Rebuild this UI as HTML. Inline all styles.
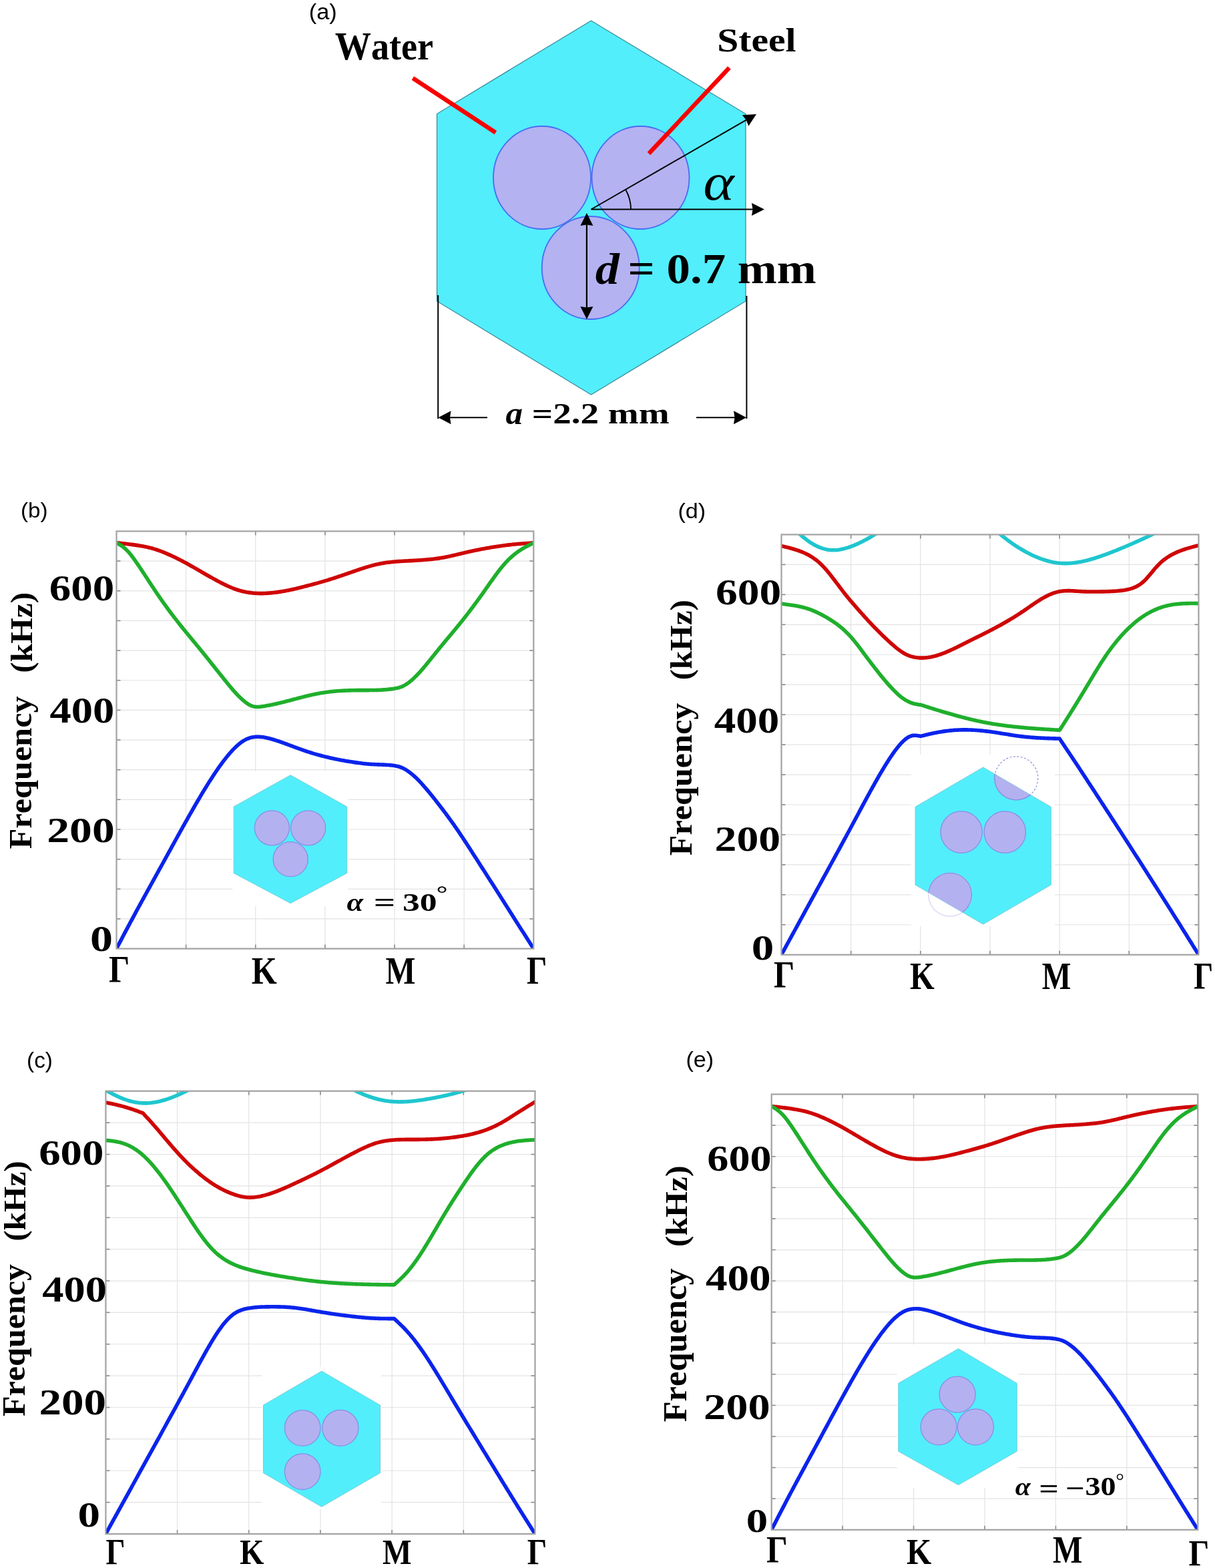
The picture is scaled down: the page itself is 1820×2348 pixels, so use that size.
<!DOCTYPE html>
<html><head><meta charset="utf-8"><title>Figure</title>
<style>html,body{margin:0;padding:0;background:#fff;}svg{display:block;}text{font-kerning:none;}</style>
</head><body>
<svg width="1820" height="2348" viewBox="0 0 1820 2348">
<rect width="1820" height="2348" fill="#fff"/>
<polygon points="885.5,31 1117,170.5 1117,451 885.5,591 654.5,451 654.5,170.5" fill="#52EEFC" stroke="#3b8f9c" stroke-width="1.3"/>
<ellipse cx="812" cy="266" rx="73" ry="77" fill="#B4B2F1" stroke="#4B6CF2" stroke-width="1.8"/>
<ellipse cx="959.5" cy="266" rx="73" ry="77" fill="#B4B2F1" stroke="#4B6CF2" stroke-width="1.8"/>
<ellipse cx="884.7" cy="401" rx="73" ry="77" fill="#B4B2F1" stroke="#4B6CF2" stroke-width="1.8"/>
<line x1="618.4" y1="117" x2="742.4" y2="198.5" stroke="#F80000" stroke-width="6.3"/>
<line x1="1092.4" y1="101.5" x2="971.9" y2="230" stroke="#F80000" stroke-width="6.3"/>
<line x1="885.5" y1="313.5" x2="1128" y2="313.5" stroke="#000" stroke-width="2.2"/>
<polygon points="1145,313.5 1126,323 1127.52,313.5 1126,304" fill="#000"/>
<line x1="885.5" y1="313.5" x2="1119.12" y2="178.95" stroke="#000" stroke-width="2"/>
<polygon points="1133,171 1121.23,188.69 1117.83,179.69 1111.79,172.2" fill="#000"/>
<path d="M945,313.5 A59.5,59.5 0 0 0 937.13,283.93" fill="none" stroke="#000" stroke-width="1.8"/>
<line x1="878.9" y1="335" x2="878.9" y2="462" stroke="#000" stroke-width="2.2"/>
<polygon points="878.9,319 888.4,338 878.9,336.48 869.4,338" fill="#000"/>
<polygon points="878.9,478 869.4,459 878.9,460.52 888.4,459" fill="#000"/>
<line x1="656.2" y1="442" x2="656.2" y2="627" stroke="#000" stroke-width="2"/>
<line x1="1118.4" y1="443" x2="1118.4" y2="627" stroke="#000" stroke-width="2"/>
<line x1="670" y1="625.3" x2="730" y2="625.3" stroke="#000" stroke-width="2"/>
<line x1="1043" y1="625.3" x2="1104" y2="625.3" stroke="#000" stroke-width="2"/>
<polygon points="656.5,625.3 675.5,615.3 673.98,625.3 675.5,635.3" fill="#000"/>
<polygon points="1118,625.3 1099,635.3 1100.52,625.3 1099,615.3" fill="#000"/>
<text transform="translate(462.67,28.58) scale(1.0446,1)" style="font-family:'Liberation Sans', sans-serif;font-weight:normal;font-style:normal;font-size:32.95px" fill="#000">(a)</text>
<text transform="translate(501.83,88.92) scale(0.9302,1)" style="font-family:'Liberation Serif', serif;font-weight:bold;font-style:normal;font-size:58.22px" fill="#000">Water</text>
<text transform="translate(1074.23,77.1) scale(1.1165,1)" style="font-family:'Liberation Serif', serif;font-weight:bold;font-style:normal;font-size:51.59px" fill="#000">Steel</text>
<text transform="translate(1053.38,299.19) scale(1.1153,1)" style="font-family:'Liberation Serif', serif;font-weight:normal;font-style:italic;font-size:78.85px" fill="#000">α</text>
<text transform="translate(891.65,424.76) scale(1.1081,1)" style="font-family:'Liberation Serif', serif;font-weight:bold;font-style:italic;font-size:65.09px" fill="#000">d</text>
<text transform="translate(940.47,424.31) scale(1.1320,1)" style="font-family:'Liberation Serif', serif;font-weight:bold;font-style:normal;font-size:62.57px" fill="#000">= 0.7 mm</text>
<text transform="translate(757.5,635.01) scale(1.0673,1)" style="font-family:'Liberation Serif', serif;font-weight:bold;font-style:italic;font-size:47.82px" fill="#000">a</text>
<text transform="translate(796.75,634.36) scale(1.2266,1)" style="font-family:'Liberation Serif', serif;font-weight:bold;font-style:normal;font-size:44.95px" fill="#000">=2.2 mm</text>
<g stroke="#E3E3E3" stroke-width="1.2">
<line x1="278.63" y1="795.5" x2="278.63" y2="1420.6"/>
<line x1="382.77" y1="795.5" x2="382.77" y2="1420.6"/>
<line x1="486.9" y1="795.5" x2="486.9" y2="1420.6"/>
<line x1="591.03" y1="795.5" x2="591.03" y2="1420.6"/>
<line x1="695.17" y1="795.5" x2="695.17" y2="1420.6"/>
<line x1="174.5" y1="1375.95" x2="799.3" y2="1375.95"/>
<line x1="174.5" y1="1331.3" x2="799.3" y2="1331.3"/>
<line x1="174.5" y1="1286.65" x2="799.3" y2="1286.65"/>
<line x1="174.5" y1="1242" x2="799.3" y2="1242"/>
<line x1="174.5" y1="1197.35" x2="799.3" y2="1197.35"/>
<line x1="174.5" y1="1152.7" x2="799.3" y2="1152.7"/>
<line x1="174.5" y1="1108.05" x2="799.3" y2="1108.05"/>
<line x1="174.5" y1="1063.4" x2="799.3" y2="1063.4"/>
<line x1="174.5" y1="1018.75" x2="799.3" y2="1018.75"/>
<line x1="174.5" y1="974.1" x2="799.3" y2="974.1"/>
<line x1="174.5" y1="929.45" x2="799.3" y2="929.45"/>
<line x1="174.5" y1="884.8" x2="799.3" y2="884.8"/>
<line x1="174.5" y1="840.15" x2="799.3" y2="840.15"/>
</g>
<g stroke="#8a8a8a" stroke-width="1.6">
<line x1="278.63" y1="1420.6" x2="278.63" y2="1414.6"/>
<line x1="278.63" y1="795.5" x2="278.63" y2="801.5"/>
<line x1="382.77" y1="1420.6" x2="382.77" y2="1414.6"/>
<line x1="382.77" y1="795.5" x2="382.77" y2="801.5"/>
<line x1="486.9" y1="1420.6" x2="486.9" y2="1414.6"/>
<line x1="486.9" y1="795.5" x2="486.9" y2="801.5"/>
<line x1="591.03" y1="1420.6" x2="591.03" y2="1414.6"/>
<line x1="591.03" y1="795.5" x2="591.03" y2="801.5"/>
<line x1="695.17" y1="1420.6" x2="695.17" y2="1414.6"/>
<line x1="695.17" y1="795.5" x2="695.17" y2="801.5"/>
<line x1="174.5" y1="1375.95" x2="180.5" y2="1375.95"/>
<line x1="799.3" y1="1375.95" x2="793.3" y2="1375.95"/>
<line x1="174.5" y1="1331.3" x2="180.5" y2="1331.3"/>
<line x1="799.3" y1="1331.3" x2="793.3" y2="1331.3"/>
<line x1="174.5" y1="1286.65" x2="180.5" y2="1286.65"/>
<line x1="799.3" y1="1286.65" x2="793.3" y2="1286.65"/>
<line x1="174.5" y1="1242" x2="180.5" y2="1242"/>
<line x1="799.3" y1="1242" x2="793.3" y2="1242"/>
<line x1="174.5" y1="1197.35" x2="180.5" y2="1197.35"/>
<line x1="799.3" y1="1197.35" x2="793.3" y2="1197.35"/>
<line x1="174.5" y1="1152.7" x2="180.5" y2="1152.7"/>
<line x1="799.3" y1="1152.7" x2="793.3" y2="1152.7"/>
<line x1="174.5" y1="1108.05" x2="180.5" y2="1108.05"/>
<line x1="799.3" y1="1108.05" x2="793.3" y2="1108.05"/>
<line x1="174.5" y1="1063.4" x2="180.5" y2="1063.4"/>
<line x1="799.3" y1="1063.4" x2="793.3" y2="1063.4"/>
<line x1="174.5" y1="1018.75" x2="180.5" y2="1018.75"/>
<line x1="799.3" y1="1018.75" x2="793.3" y2="1018.75"/>
<line x1="174.5" y1="974.1" x2="180.5" y2="974.1"/>
<line x1="799.3" y1="974.1" x2="793.3" y2="974.1"/>
<line x1="174.5" y1="929.45" x2="180.5" y2="929.45"/>
<line x1="799.3" y1="929.45" x2="793.3" y2="929.45"/>
<line x1="174.5" y1="884.8" x2="180.5" y2="884.8"/>
<line x1="799.3" y1="884.8" x2="793.3" y2="884.8"/>
<line x1="174.5" y1="840.15" x2="180.5" y2="840.15"/>
<line x1="799.3" y1="840.15" x2="793.3" y2="840.15"/>
</g>
<rect x="348.2" y="1154.7" width="173.4" height="201.9" fill="#fff"/>
<clipPath id="hb"><polygon points="435.2,1160.7 519.6,1208 519.6,1307.5 435.2,1352.6 350.2,1307.5 350.2,1208"/></clipPath>
<polygon points="435.2,1160.7 519.6,1208 519.6,1307.5 435.2,1352.6 350.2,1307.5 350.2,1208" fill="#52EEFC" stroke="#6fcfd8" stroke-width="1"/>
<circle cx="407.4" cy="1239.8" r="26" fill="#B4B1F0" stroke="#8C8CE6" stroke-width="1.3"/>
<circle cx="461.6" cy="1239.8" r="26" fill="#B4B1F0" stroke="#8C8CE6" stroke-width="1.3"/>
<circle cx="435.2" cy="1286.7" r="26" fill="#B4B1F0" stroke="#8C8CE6" stroke-width="1.3"/>
<clipPath id="cb"><rect x="174.5" y="795.5" width="624.8" height="625.1"/></clipPath>
<g fill="none" stroke-width="5.6" stroke-linejoin="round" stroke-linecap="round" clip-path="url(#cb)">
<path d="M174.5,812.73 L176.24,812.93 L177.98,813.12 L179.72,813.32 L181.46,813.51 L183.2,813.71 L184.94,813.91 L186.68,814.11 L188.42,814.32 L190.16,814.53 L191.9,814.74 L193.64,814.95 L195.38,815.17 L197.13,815.4 L198.87,815.63 L200.61,815.86 L202.35,816.11 L204.09,816.36 L205.83,816.61 L207.57,816.88 L209.31,817.16 L211.05,817.45 L212.79,817.75 L214.53,818.07 L216.27,818.41 L218.01,818.76 L219.75,819.13 L221.49,819.52 L223.23,819.94 L224.97,820.37 L226.71,820.83 L228.45,821.31 L230.19,821.82 L231.93,822.35 L233.67,822.9 L235.41,823.48 L237.15,824.08 L238.89,824.7 L240.63,825.34 L242.38,826 L244.12,826.68 L245.86,827.37 L247.6,828.09 L249.34,828.82 L251.08,829.56 L252.82,830.32 L254.56,831.1 L256.3,831.89 L258.04,832.69 L259.78,833.51 L261.52,834.34 L263.26,835.18 L265,836.04 L266.74,836.91 L268.48,837.79 L270.22,838.68 L271.96,839.59 L273.7,840.51 L275.44,841.43 L277.18,842.37 L278.92,843.32 L280.66,844.28 L282.4,845.25 L284.14,846.22 L285.88,847.2 L287.63,848.19 L289.37,849.18 L291.11,850.17 L292.85,851.17 L294.59,852.18 L296.33,853.18 L298.07,854.19 L299.81,855.2 L301.55,856.21 L303.29,857.21 L305.03,858.22 L306.77,859.23 L308.51,860.23 L310.25,861.23 L311.99,862.22 L313.73,863.21 L315.47,864.19 L317.21,865.17 L318.95,866.14 L320.69,867.11 L322.43,868.06 L324.17,869.01 L325.91,869.94 L327.65,870.86 L329.39,871.78 L331.14,872.68 L332.88,873.56 L334.62,874.44 L336.36,875.29 L338.1,876.13 L339.84,876.95 L341.58,877.75 L343.32,878.53 L345.06,879.28 L346.8,880.01 L348.54,880.72 L350.28,881.39 L352.02,882.04 L353.76,882.65 L355.5,883.24 L357.24,883.79 L358.98,884.32 L360.72,884.81 L362.46,885.27 L364.2,885.7 L365.94,886.1 L367.68,886.46 L369.42,886.8 L371.16,887.1 L372.9,887.37 L374.64,887.61 L376.39,887.83 L378.13,888.01 L379.87,888.17 L381.61,888.3 L383.35,888.41 L385.09,888.5 L386.83,888.56 L388.57,888.59 L390.31,888.61 L392.05,888.6 L393.79,888.58 L395.53,888.53 L397.27,888.46 L399.01,888.38 L400.75,888.27 L402.49,888.15 L404.23,888.01 L405.97,887.86 L407.71,887.69 L409.45,887.51 L411.19,887.31 L412.93,887.1 L414.67,886.88 L416.41,886.64 L418.15,886.39 L419.89,886.12 L421.64,885.85 L423.38,885.56 L425.12,885.26 L426.86,884.95 L428.6,884.62 L430.34,884.28 L432.08,883.94 L433.82,883.58 L435.56,883.21 L437.3,882.83 L439.04,882.44 L440.78,882.04 L442.52,881.64 L444.26,881.22 L446,880.8 L447.74,880.37 L449.48,879.94 L451.22,879.5 L452.96,879.06 L454.7,878.61 L456.44,878.16 L458.18,877.71 L459.92,877.26 L461.66,876.8 L463.4,876.35 L465.15,875.89 L466.89,875.44 L468.63,874.98 L470.37,874.51 L472.11,874.05 L473.85,873.58 L475.59,873.1 L477.33,872.62 L479.07,872.14 L480.81,871.65 L482.55,871.15 L484.29,870.65 L486.03,870.14 L487.77,869.62 L489.51,869.1 L491.25,868.57 L492.99,868.03 L494.73,867.48 L496.47,866.93 L498.21,866.37 L499.95,865.81 L501.69,865.24 L503.43,864.66 L505.17,864.09 L506.91,863.5 L508.65,862.92 L510.4,862.33 L512.14,861.73 L513.88,861.14 L515.62,860.54 L517.36,859.94 L519.1,859.34 L520.84,858.74 L522.58,858.14 L524.32,857.53 L526.06,856.93 L527.8,856.33 L529.54,855.73 L531.28,855.13 L533.02,854.54 L534.76,853.95 L536.5,853.36 L538.24,852.77 L539.98,852.19 L541.72,851.62 L543.46,851.05 L545.2,850.49 L546.94,849.94 L548.68,849.4 L550.42,848.87 L552.16,848.35 L553.91,847.84 L555.65,847.35 L557.39,846.87 L559.13,846.41 L560.87,845.97 L562.61,845.54 L564.35,845.14 L566.09,844.75 L567.83,844.39 L569.57,844.04 L571.31,843.72 L573.05,843.41 L574.79,843.12 L576.53,842.85 L578.27,842.59 L580.01,842.35 L581.75,842.12 L583.49,841.91 L585.23,841.71 L586.97,841.53 L588.71,841.35 L590.45,841.19 L592.19,841.04 L593.93,840.9 L595.67,840.77 L597.41,840.65 L599.16,840.53 L600.9,840.43 L602.64,840.32 L604.38,840.22 L606.12,840.13 L607.86,840.03 L609.6,839.94 L611.34,839.85 L613.08,839.76 L614.82,839.67 L616.56,839.58 L618.3,839.49 L620.04,839.39 L621.78,839.29 L623.52,839.18 L625.26,839.07 L627,838.96 L628.74,838.84 L630.48,838.72 L632.22,838.59 L633.96,838.46 L635.7,838.32 L637.44,838.18 L639.18,838.03 L640.92,837.88 L642.66,837.72 L644.41,837.55 L646.15,837.38 L647.89,837.2 L649.63,837.01 L651.37,836.8 L653.11,836.59 L654.85,836.36 L656.59,836.12 L658.33,835.87 L660.07,835.59 L661.81,835.3 L663.55,835 L665.29,834.67 L667.03,834.34 L668.77,833.99 L670.51,833.63 L672.25,833.26 L673.99,832.88 L675.73,832.49 L677.47,832.09 L679.21,831.69 L680.95,831.28 L682.69,830.86 L684.43,830.45 L686.17,830.03 L687.92,829.61 L689.66,829.19 L691.4,828.77 L693.14,828.36 L694.88,827.95 L696.62,827.54 L698.36,827.14 L700.1,826.74 L701.84,826.35 L703.58,825.96 L705.32,825.58 L707.06,825.2 L708.8,824.83 L710.54,824.46 L712.28,824.1 L714.02,823.74 L715.76,823.39 L717.5,823.04 L719.24,822.7 L720.98,822.36 L722.72,822.03 L724.46,821.71 L726.2,821.38 L727.94,821.07 L729.68,820.76 L731.42,820.45 L733.17,820.15 L734.91,819.86 L736.65,819.57 L738.39,819.28 L740.13,819.01 L741.87,818.73 L743.61,818.47 L745.35,818.2 L747.09,817.95 L748.83,817.7 L750.57,817.45 L752.31,817.21 L754.05,816.98 L755.79,816.75 L757.53,816.53 L759.27,816.31 L761.01,816.1 L762.75,815.9 L764.49,815.7 L766.23,815.51 L767.97,815.33 L769.71,815.15 L771.45,814.98 L773.19,814.82 L774.93,814.66 L776.67,814.51 L778.42,814.36 L780.16,814.22 L781.9,814.09 L783.64,813.96 L785.38,813.83 L787.12,813.71 L788.86,813.59 L790.6,813.47 L792.34,813.36 L794.08,813.24 L795.82,813.13 L797.56,813.02 L799.3,812.91" stroke="#CF0505"/>
<path d="M174.5,812.79 L176.24,813.76 L177.98,814.75 L179.72,815.79 L181.46,816.9 L183.2,818.1 L184.94,819.41 L186.68,820.86 L188.42,822.43 L190.16,824.13 L191.9,825.96 L193.64,827.91 L195.38,830 L197.13,832.2 L198.87,834.5 L200.61,836.89 L202.35,839.33 L204.09,841.82 L205.83,844.34 L207.57,846.89 L209.31,849.47 L211.05,852.08 L212.79,854.7 L214.53,857.34 L216.27,860 L218.01,862.66 L219.75,865.33 L221.49,868.01 L223.23,870.68 L224.97,873.35 L226.71,876.01 L228.45,878.66 L230.19,881.3 L231.93,883.91 L233.67,886.5 L235.41,889.08 L237.15,891.63 L238.89,894.15 L240.63,896.66 L242.38,899.14 L244.12,901.61 L245.86,904.05 L247.6,906.48 L249.34,908.88 L251.08,911.26 L252.82,913.62 L254.56,915.97 L256.3,918.29 L258.04,920.59 L259.78,922.88 L261.52,925.15 L263.26,927.4 L265,929.63 L266.74,931.84 L268.48,934.03 L270.22,936.22 L271.96,938.38 L273.7,940.54 L275.44,942.68 L277.18,944.82 L278.92,946.94 L280.66,949.06 L282.4,951.17 L284.14,953.28 L285.88,955.39 L287.63,957.49 L289.37,959.59 L291.11,961.7 L292.85,963.8 L294.59,965.91 L296.33,968.02 L298.07,970.14 L299.81,972.27 L301.55,974.41 L303.29,976.55 L305.03,978.7 L306.77,980.86 L308.51,983.02 L310.25,985.19 L311.99,987.36 L313.73,989.54 L315.47,991.72 L317.21,993.9 L318.95,996.08 L320.69,998.27 L322.43,1000.45 L324.17,1002.64 L325.91,1004.82 L327.65,1007 L329.39,1009.19 L331.14,1011.36 L332.88,1013.54 L334.62,1015.71 L336.36,1017.87 L338.1,1020.03 L339.84,1022.18 L341.58,1024.32 L343.32,1026.43 L345.06,1028.52 L346.8,1030.58 L348.54,1032.61 L350.28,1034.6 L352.02,1036.55 L353.76,1038.46 L355.5,1040.31 L357.24,1042.11 L358.98,1043.85 L360.72,1045.53 L362.46,1047.14 L364.2,1048.68 L365.94,1050.14 L367.68,1051.52 L369.42,1052.82 L371.16,1054.01 L372.9,1055.08 L374.64,1056.02 L376.39,1056.79 L378.13,1057.41 L379.87,1057.88 L381.61,1058.21 L383.35,1058.4 L385.09,1058.48 L386.83,1058.45 L388.57,1058.34 L390.31,1058.17 L392.05,1057.95 L393.79,1057.7 L395.53,1057.44 L397.27,1057.16 L399.01,1056.86 L400.75,1056.56 L402.49,1056.24 L404.23,1055.91 L405.97,1055.57 L407.71,1055.21 L409.45,1054.85 L411.19,1054.47 L412.93,1054.09 L414.67,1053.69 L416.41,1053.29 L418.15,1052.88 L419.89,1052.46 L421.64,1052.04 L423.38,1051.61 L425.12,1051.17 L426.86,1050.73 L428.6,1050.28 L430.34,1049.83 L432.08,1049.38 L433.82,1048.92 L435.56,1048.46 L437.3,1048 L439.04,1047.54 L440.78,1047.08 L442.52,1046.62 L444.26,1046.16 L446,1045.7 L447.74,1045.25 L449.48,1044.79 L451.22,1044.34 L452.96,1043.89 L454.7,1043.45 L456.44,1043.01 L458.18,1042.58 L459.92,1042.15 L461.66,1041.74 L463.4,1041.32 L465.15,1040.92 L466.89,1040.53 L468.63,1040.14 L470.37,1039.77 L472.11,1039.4 L473.85,1039.05 L475.59,1038.71 L477.33,1038.38 L479.07,1038.06 L480.81,1037.76 L482.55,1037.47 L484.29,1037.19 L486.03,1036.93 L487.77,1036.68 L489.51,1036.44 L491.25,1036.22 L492.99,1036.01 L494.73,1035.8 L496.47,1035.61 L498.21,1035.43 L499.95,1035.26 L501.69,1035.1 L503.43,1034.96 L505.17,1034.82 L506.91,1034.69 L508.65,1034.57 L510.4,1034.45 L512.14,1034.35 L513.88,1034.25 L515.62,1034.17 L517.36,1034.09 L519.1,1034.01 L520.84,1033.95 L522.58,1033.89 L524.32,1033.84 L526.06,1033.79 L527.8,1033.75 L529.54,1033.71 L531.28,1033.68 L533.02,1033.66 L534.76,1033.64 L536.5,1033.62 L538.24,1033.61 L539.98,1033.6 L541.72,1033.6 L543.46,1033.59 L545.2,1033.59 L546.94,1033.59 L548.68,1033.59 L550.42,1033.58 L552.16,1033.58 L553.91,1033.57 L555.65,1033.56 L557.39,1033.54 L559.13,1033.52 L560.87,1033.49 L562.61,1033.45 L564.35,1033.41 L566.09,1033.35 L567.83,1033.29 L569.57,1033.21 L571.31,1033.12 L573.05,1033.03 L574.79,1032.91 L576.53,1032.78 L578.27,1032.64 L580.01,1032.48 L581.75,1032.31 L583.49,1032.11 L585.23,1031.9 L586.97,1031.67 L588.71,1031.42 L590.45,1031.14 L592.19,1030.85 L593.93,1030.52 L595.67,1030.14 L597.41,1029.7 L599.16,1029.18 L600.9,1028.57 L602.64,1027.85 L604.38,1027.03 L606.12,1026.1 L607.86,1025.06 L609.6,1023.94 L611.34,1022.72 L613.08,1021.42 L614.82,1020.04 L616.56,1018.58 L618.3,1017.05 L620.04,1015.45 L621.78,1013.78 L623.52,1012.05 L625.26,1010.26 L627,1008.42 L628.74,1006.52 L630.48,1004.59 L632.22,1002.61 L633.96,1000.59 L635.7,998.54 L637.44,996.46 L639.18,994.35 L640.92,992.22 L642.66,990.08 L644.41,987.92 L646.15,985.75 L647.89,983.58 L649.63,981.4 L651.37,979.23 L653.11,977.07 L654.85,974.91 L656.59,972.77 L658.33,970.64 L660.07,968.53 L661.81,966.42 L663.55,964.32 L665.29,962.23 L667.03,960.14 L668.77,958.06 L670.51,955.98 L672.25,953.9 L673.99,951.82 L675.73,949.73 L677.47,947.65 L679.21,945.56 L680.95,943.46 L682.69,941.36 L684.43,939.25 L686.17,937.12 L687.92,934.99 L689.66,932.84 L691.4,930.67 L693.14,928.49 L694.88,926.29 L696.62,924.08 L698.36,921.85 L700.1,919.6 L701.84,917.34 L703.58,915.06 L705.32,912.76 L707.06,910.45 L708.8,908.13 L710.54,905.79 L712.28,903.43 L714.02,901.06 L715.76,898.68 L717.5,896.28 L719.24,893.87 L720.98,891.45 L722.72,889.02 L724.46,886.57 L726.2,884.11 L727.94,881.64 L729.68,879.16 L731.42,876.67 L733.17,874.2 L734.91,871.72 L736.65,869.26 L738.39,866.82 L740.13,864.39 L741.87,862 L743.61,859.63 L745.35,857.3 L747.09,855.01 L748.83,852.77 L750.57,850.58 L752.31,848.44 L754.05,846.37 L755.79,844.36 L757.53,842.42 L759.27,840.55 L761.01,838.76 L762.75,837.04 L764.49,835.39 L766.23,833.81 L767.97,832.3 L769.71,830.84 L771.45,829.45 L773.19,828.12 L774.93,826.84 L776.67,825.61 L778.42,824.43 L780.16,823.3 L781.9,822.22 L783.64,821.17 L785.38,820.16 L787.12,819.18 L788.86,818.23 L790.6,817.31 L792.34,816.4 L794.08,815.51 L795.82,814.63 L797.56,813.76 L799.3,812.89" stroke="#1FAF2C"/>
<path d="M174.5,1420.6 L176.24,1417.28 L177.98,1413.96 L179.72,1410.65 L181.46,1407.34 L183.2,1404.03 L184.94,1400.73 L186.68,1397.43 L188.42,1394.14 L190.16,1390.85 L191.9,1387.57 L193.64,1384.31 L195.38,1381.05 L197.13,1377.8 L198.87,1374.56 L200.61,1371.33 L202.35,1368.12 L204.09,1364.91 L205.83,1361.71 L207.57,1358.52 L209.31,1355.34 L211.05,1352.16 L212.79,1348.99 L214.53,1345.83 L216.27,1342.67 L218.01,1339.51 L219.75,1336.35 L221.49,1333.2 L223.23,1330.05 L224.97,1326.9 L226.71,1323.75 L228.45,1320.6 L230.19,1317.45 L231.93,1314.3 L233.67,1311.15 L235.41,1308 L237.15,1304.85 L238.89,1301.7 L240.63,1298.55 L242.38,1295.4 L244.12,1292.24 L245.86,1289.08 L247.6,1285.93 L249.34,1282.77 L251.08,1279.61 L252.82,1276.45 L254.56,1273.28 L256.3,1270.12 L258.04,1266.96 L259.78,1263.81 L261.52,1260.65 L263.26,1257.5 L265,1254.35 L266.74,1251.21 L268.48,1248.07 L270.22,1244.93 L271.96,1241.8 L273.7,1238.68 L275.44,1235.57 L277.18,1232.46 L278.92,1229.36 L280.66,1226.28 L282.4,1223.2 L284.14,1220.13 L285.88,1217.07 L287.63,1214.03 L289.37,1211 L291.11,1207.98 L292.85,1204.97 L294.59,1201.99 L296.33,1199.01 L298.07,1196.05 L299.81,1193.11 L301.55,1190.19 L303.29,1187.29 L305.03,1184.41 L306.77,1181.55 L308.51,1178.71 L310.25,1175.9 L311.99,1173.12 L313.73,1170.36 L315.47,1167.63 L317.21,1164.93 L318.95,1162.26 L320.69,1159.62 L322.43,1157.02 L324.17,1154.45 L325.91,1151.92 L327.65,1149.43 L329.39,1146.98 L331.14,1144.56 L332.88,1142.19 L334.62,1139.87 L336.36,1137.6 L338.1,1135.37 L339.84,1133.2 L341.58,1131.08 L343.32,1129.02 L345.06,1127.02 L346.8,1125.07 L348.54,1123.19 L350.28,1121.38 L352.02,1119.63 L353.76,1117.96 L355.5,1116.37 L357.24,1114.85 L358.98,1113.42 L360.72,1112.08 L362.46,1110.82 L364.2,1109.67 L365.94,1108.6 L367.68,1107.65 L369.42,1106.79 L371.16,1106.03 L372.9,1105.37 L374.64,1104.81 L376.39,1104.35 L378.13,1103.97 L379.87,1103.68 L381.61,1103.48 L383.35,1103.34 L385.09,1103.27 L386.83,1103.27 L388.57,1103.33 L390.31,1103.45 L392.05,1103.62 L393.79,1103.84 L395.53,1104.1 L397.27,1104.41 L399.01,1104.76 L400.75,1105.15 L402.49,1105.57 L404.23,1106.01 L405.97,1106.48 L407.71,1106.98 L409.45,1107.49 L411.19,1108.02 L412.93,1108.57 L414.67,1109.13 L416.41,1109.7 L418.15,1110.28 L419.89,1110.88 L421.64,1111.49 L423.38,1112.11 L425.12,1112.73 L426.86,1113.36 L428.6,1114 L430.34,1114.64 L432.08,1115.29 L433.82,1115.94 L435.56,1116.59 L437.3,1117.24 L439.04,1117.89 L440.78,1118.54 L442.52,1119.19 L444.26,1119.83 L446,1120.47 L447.74,1121.1 L449.48,1121.73 L451.22,1122.35 L452.96,1122.97 L454.7,1123.57 L456.44,1124.17 L458.18,1124.76 L459.92,1125.33 L461.66,1125.9 L463.4,1126.45 L465.15,1127 L466.89,1127.54 L468.63,1128.06 L470.37,1128.58 L472.11,1129.09 L473.85,1129.59 L475.59,1130.08 L477.33,1130.56 L479.07,1131.03 L480.81,1131.5 L482.55,1131.95 L484.29,1132.4 L486.03,1132.84 L487.77,1133.26 L489.51,1133.69 L491.25,1134.1 L492.99,1134.5 L494.73,1134.9 L496.47,1135.29 L498.21,1135.67 L499.95,1136.05 L501.69,1136.41 L503.43,1136.77 L505.17,1137.13 L506.91,1137.47 L508.65,1137.81 L510.4,1138.14 L512.14,1138.46 L513.88,1138.78 L515.62,1139.09 L517.36,1139.4 L519.1,1139.7 L520.84,1139.99 L522.58,1140.28 L524.32,1140.56 L526.06,1140.83 L527.8,1141.1 L529.54,1141.36 L531.28,1141.62 L533.02,1141.87 L534.76,1142.12 L536.5,1142.35 L538.24,1142.58 L539.98,1142.8 L541.72,1143.02 L543.46,1143.22 L545.2,1143.42 L546.94,1143.6 L548.68,1143.77 L550.42,1143.94 L552.16,1144.09 L553.91,1144.23 L555.65,1144.36 L557.39,1144.47 L559.13,1144.58 L560.87,1144.66 L562.61,1144.74 L564.35,1144.81 L566.09,1144.87 L567.83,1144.92 L569.57,1144.98 L571.31,1145.04 L573.05,1145.1 L574.79,1145.16 L576.53,1145.24 L578.27,1145.33 L580.01,1145.43 L581.75,1145.55 L583.49,1145.7 L585.23,1145.86 L586.97,1146.05 L588.71,1146.27 L590.45,1146.52 L592.19,1146.8 L593.93,1147.13 L595.67,1147.51 L597.41,1147.97 L599.16,1148.5 L600.9,1149.12 L602.64,1149.85 L604.38,1150.69 L606.12,1151.62 L607.86,1152.65 L609.6,1153.75 L611.34,1154.93 L613.08,1156.18 L614.82,1157.5 L616.56,1158.88 L618.3,1160.32 L620.04,1161.83 L621.78,1163.41 L623.52,1165.05 L625.26,1166.75 L627,1168.51 L628.74,1170.32 L630.48,1172.18 L632.22,1174.09 L633.96,1176.04 L635.7,1178.03 L637.44,1180.05 L639.18,1182.09 L640.92,1184.16 L642.66,1186.25 L644.41,1188.36 L646.15,1190.5 L647.89,1192.65 L649.63,1194.83 L651.37,1197.02 L653.11,1199.22 L654.85,1201.44 L656.59,1203.68 L658.33,1205.93 L660.07,1208.2 L661.81,1210.48 L663.55,1212.77 L665.29,1215.08 L667.03,1217.41 L668.77,1219.75 L670.51,1222.11 L672.25,1224.48 L673.99,1226.87 L675.73,1229.27 L677.47,1231.7 L679.21,1234.15 L680.95,1236.62 L682.69,1239.11 L684.43,1241.63 L686.17,1244.18 L687.92,1246.74 L689.66,1249.33 L691.4,1251.94 L693.14,1254.56 L694.88,1257.2 L696.62,1259.86 L698.36,1262.52 L700.1,1265.2 L701.84,1267.89 L703.58,1270.58 L705.32,1273.28 L707.06,1275.99 L708.8,1278.69 L710.54,1281.4 L712.28,1284.11 L714.02,1286.82 L715.76,1289.53 L717.5,1292.24 L719.24,1294.95 L720.98,1297.66 L722.72,1300.37 L724.46,1303.08 L726.2,1305.79 L727.94,1308.5 L729.68,1311.22 L731.42,1313.93 L733.17,1316.65 L734.91,1319.38 L736.65,1322.1 L738.39,1324.83 L740.13,1327.56 L741.87,1330.29 L743.61,1333.03 L745.35,1335.77 L747.09,1338.51 L748.83,1341.26 L750.57,1344.01 L752.31,1346.76 L754.05,1349.51 L755.79,1352.26 L757.53,1355.01 L759.27,1357.77 L761.01,1360.52 L762.75,1363.27 L764.49,1366.02 L766.23,1368.77 L767.97,1371.51 L769.71,1374.26 L771.45,1377 L773.19,1379.74 L774.93,1382.47 L776.67,1385.21 L778.42,1387.94 L780.16,1390.67 L781.9,1393.39 L783.64,1396.12 L785.38,1398.84 L787.12,1401.57 L788.86,1404.29 L790.6,1407.01 L792.34,1409.73 L794.08,1412.45 L795.82,1415.17 L797.56,1417.88 L799.3,1420.6" stroke="#0A24EC"/>
</g>
<rect x="174.5" y="795.5" width="624.8" height="625.1" fill="none" stroke="#A2A2A2" stroke-width="2.2"/>
<text transform="translate(73.78,899.16) scale(1.1778,1)" style="font-family:'Liberation Serif', serif;font-weight:bold;font-style:normal;font-size:55.13px" fill="#000">600</text>
<text transform="translate(74.42,1081.97) scale(1.1923,1)" style="font-family:'Liberation Serif', serif;font-weight:bold;font-style:normal;font-size:54.09px" fill="#000">400</text>
<text transform="translate(70.26,1261.19) scale(1.2865,1)" style="font-family:'Liberation Serif', serif;font-weight:bold;font-style:normal;font-size:52.61px" fill="#000">200</text>
<text transform="translate(134.91,1423.66) scale(1.2228,1)" style="font-family:'Liberation Serif', serif;font-weight:bold;font-style:normal;font-size:55.57px" fill="#000">0</text>
<text transform="translate(163.01,1471.2) scale(0.8553,1)" style="font-family:'Liberation Serif', serif;font-weight:bold;font-style:normal;font-size:57.42px" fill="#000">Γ</text>
<text transform="translate(376.66,1473.2) scale(0.8696,1)" style="font-family:'Liberation Serif', serif;font-weight:bold;font-style:normal;font-size:56.2px" fill="#000">K</text>
<text transform="translate(577.39,1473.2) scale(0.8461,1)" style="font-family:'Liberation Serif', serif;font-weight:bold;font-style:normal;font-size:56.2px" fill="#000">M</text>
<text transform="translate(789.04,1473.2) scale(0.8133,1)" style="font-family:'Liberation Serif', serif;font-weight:bold;font-style:normal;font-size:58.65px" fill="#000">Γ</text>
<text transform="translate(47.21,1271.26) rotate(-90) scale(1.0346,1)" style="font-family:'Liberation Serif', serif;font-weight:bold;font-style:normal;font-size:48.59px" fill="#000">Frequency</text>
<text transform="translate(47.8,1007.67) rotate(-90) scale(1.0427,1)" style="font-family:'Liberation Serif', serif;font-weight:bold;font-style:normal;font-size:47.42px" fill="#000">(kHz)</text>
<text transform="translate(30.94,774.78) scale(1.0391,1)" style="font-family:'Liberation Sans', sans-serif;font-weight:normal;font-style:normal;font-size:31.99px" fill="#000">(b)</text>
<text transform="translate(519.41,1364.3) scale(1.1532,1)" style="font-family:'Liberation Serif', serif;font-weight:bold;font-style:italic;font-size:38.59px" fill="#000">α</text>
<text transform="translate(559.85,1364.92) scale(1.4577,1)" style="font-family:'Liberation Serif', serif;font-weight:bold;font-style:normal;font-size:39.26px" fill="#000">=</text>
<text transform="translate(602.96,1364.34) scale(1.3874,1)" style="font-family:'Liberation Serif', serif;font-weight:bold;font-style:normal;font-size:37.2px" fill="#000">30</text>
<text transform="translate(653.55,1349.44) scale(1.3684,1)" style="font-family:'Liberation Serif', serif;font-weight:bold;font-style:normal;font-size:31.33px" fill="#000">°</text>
<g stroke="#E3E3E3" stroke-width="1.2">
<line x1="1274.67" y1="800.5" x2="1274.67" y2="1429.7"/>
<line x1="1378.83" y1="800.5" x2="1378.83" y2="1429.7"/>
<line x1="1483" y1="800.5" x2="1483" y2="1429.7"/>
<line x1="1587.17" y1="800.5" x2="1587.17" y2="1429.7"/>
<line x1="1691.33" y1="800.5" x2="1691.33" y2="1429.7"/>
<line x1="1170.5" y1="1384.76" x2="1795.5" y2="1384.76"/>
<line x1="1170.5" y1="1339.81" x2="1795.5" y2="1339.81"/>
<line x1="1170.5" y1="1294.87" x2="1795.5" y2="1294.87"/>
<line x1="1170.5" y1="1249.93" x2="1795.5" y2="1249.93"/>
<line x1="1170.5" y1="1204.99" x2="1795.5" y2="1204.99"/>
<line x1="1170.5" y1="1160.04" x2="1795.5" y2="1160.04"/>
<line x1="1170.5" y1="1115.1" x2="1795.5" y2="1115.1"/>
<line x1="1170.5" y1="1070.16" x2="1795.5" y2="1070.16"/>
<line x1="1170.5" y1="1025.21" x2="1795.5" y2="1025.21"/>
<line x1="1170.5" y1="980.27" x2="1795.5" y2="980.27"/>
<line x1="1170.5" y1="935.33" x2="1795.5" y2="935.33"/>
<line x1="1170.5" y1="890.39" x2="1795.5" y2="890.39"/>
<line x1="1170.5" y1="845.44" x2="1795.5" y2="845.44"/>
</g>
<g stroke="#8a8a8a" stroke-width="1.6">
<line x1="1274.67" y1="1429.7" x2="1274.67" y2="1423.7"/>
<line x1="1274.67" y1="800.5" x2="1274.67" y2="806.5"/>
<line x1="1378.83" y1="1429.7" x2="1378.83" y2="1423.7"/>
<line x1="1378.83" y1="800.5" x2="1378.83" y2="806.5"/>
<line x1="1483" y1="1429.7" x2="1483" y2="1423.7"/>
<line x1="1483" y1="800.5" x2="1483" y2="806.5"/>
<line x1="1587.17" y1="1429.7" x2="1587.17" y2="1423.7"/>
<line x1="1587.17" y1="800.5" x2="1587.17" y2="806.5"/>
<line x1="1691.33" y1="1429.7" x2="1691.33" y2="1423.7"/>
<line x1="1691.33" y1="800.5" x2="1691.33" y2="806.5"/>
<line x1="1170.5" y1="1384.76" x2="1176.5" y2="1384.76"/>
<line x1="1795.5" y1="1384.76" x2="1789.5" y2="1384.76"/>
<line x1="1170.5" y1="1339.81" x2="1176.5" y2="1339.81"/>
<line x1="1795.5" y1="1339.81" x2="1789.5" y2="1339.81"/>
<line x1="1170.5" y1="1294.87" x2="1176.5" y2="1294.87"/>
<line x1="1795.5" y1="1294.87" x2="1789.5" y2="1294.87"/>
<line x1="1170.5" y1="1249.93" x2="1176.5" y2="1249.93"/>
<line x1="1795.5" y1="1249.93" x2="1789.5" y2="1249.93"/>
<line x1="1170.5" y1="1204.99" x2="1176.5" y2="1204.99"/>
<line x1="1795.5" y1="1204.99" x2="1789.5" y2="1204.99"/>
<line x1="1170.5" y1="1160.04" x2="1176.5" y2="1160.04"/>
<line x1="1795.5" y1="1160.04" x2="1789.5" y2="1160.04"/>
<line x1="1170.5" y1="1115.1" x2="1176.5" y2="1115.1"/>
<line x1="1795.5" y1="1115.1" x2="1789.5" y2="1115.1"/>
<line x1="1170.5" y1="1070.16" x2="1176.5" y2="1070.16"/>
<line x1="1795.5" y1="1070.16" x2="1789.5" y2="1070.16"/>
<line x1="1170.5" y1="1025.21" x2="1176.5" y2="1025.21"/>
<line x1="1795.5" y1="1025.21" x2="1789.5" y2="1025.21"/>
<line x1="1170.5" y1="980.27" x2="1176.5" y2="980.27"/>
<line x1="1795.5" y1="980.27" x2="1789.5" y2="980.27"/>
<line x1="1170.5" y1="935.33" x2="1176.5" y2="935.33"/>
<line x1="1795.5" y1="935.33" x2="1789.5" y2="935.33"/>
<line x1="1170.5" y1="890.39" x2="1176.5" y2="890.39"/>
<line x1="1795.5" y1="890.39" x2="1789.5" y2="890.39"/>
<line x1="1170.5" y1="845.44" x2="1176.5" y2="845.44"/>
<line x1="1795.5" y1="845.44" x2="1789.5" y2="845.44"/>
</g>
<rect x="1365" y="1130" width="215" height="257" fill="#fff"/>
<clipPath id="hd"><polygon points="1472.7,1149 1574.3,1208.3 1574.3,1325 1472.7,1384 1371.1,1325 1371.1,1208.3"/></clipPath>
<polygon points="1472.7,1149 1574.3,1208.3 1574.3,1325 1472.7,1384 1371.1,1325 1371.1,1208.3" fill="#52EEFC" stroke="#6fcfd8" stroke-width="1"/>
<circle cx="1440.1" cy="1246.1" r="31.2" fill="#B4B1F0" stroke="#8C8CE6" stroke-width="1.3"/>
<circle cx="1505.3" cy="1246.1" r="31.2" fill="#B4B1F0" stroke="#8C8CE6" stroke-width="1.3"/>
<circle cx="1522.3" cy="1165.3" r="32.5" fill="none" stroke="#9090d8" stroke-width="1.2" stroke-dasharray="3,2.5"/>
<circle cx="1522.3" cy="1165.3" r="32.5" fill="#B4B1F0" stroke="#8C8CE6" stroke-width="1.3" clip-path="url(#hd)"/>
<circle cx="1423.1" cy="1339.7" r="32.3" fill="none" stroke="#d8d0f0" stroke-width="1.2" stroke-dasharray="2,0"/>
<circle cx="1423.1" cy="1339.7" r="32.3" fill="#B4B1F0" stroke="#8C8CE6" stroke-width="1.3" clip-path="url(#hd)"/>
<clipPath id="cd"><rect x="1170.5" y="800.5" width="625" height="629.2"/></clipPath>
<g fill="none" stroke-width="5.6" stroke-linejoin="round" stroke-linecap="round" clip-path="url(#cd)">
<path d="M1180.92,782.6 L1182.67,784.45 L1184.43,786.29 L1186.19,788.11 L1187.94,789.93 L1189.7,791.72 L1191.46,793.49 L1193.22,795.22 L1194.97,796.92 L1196.73,798.58 L1198.49,800.19 L1200.24,801.76 L1202,803.29 L1203.76,804.76 L1205.52,806.19 L1207.27,807.56 L1209.03,808.89 L1210.79,810.16 L1212.54,811.38 L1214.3,812.55 L1216.06,813.66 L1217.81,814.72 L1219.57,815.72 L1221.33,816.67 L1223.09,817.55 L1224.84,818.38 L1226.6,819.15 L1228.36,819.87 L1230.11,820.52 L1231.87,821.12 L1233.63,821.66 L1235.38,822.13 L1237.14,822.55 L1238.9,822.91 L1240.66,823.21 L1242.41,823.44 L1244.17,823.62 L1245.93,823.73 L1247.68,823.78 L1249.44,823.78 L1251.2,823.72 L1252.95,823.6 L1254.71,823.43 L1256.47,823.21 L1258.23,822.94 L1259.98,822.62 L1261.74,822.26 L1263.5,821.85 L1265.25,821.41 L1267.01,820.92 L1268.77,820.4 L1270.53,819.85 L1272.28,819.26 L1274.04,818.63 L1275.8,817.99 L1277.55,817.31 L1279.31,816.6 L1281.07,815.87 L1282.82,815.11 L1284.58,814.33 L1286.34,813.52 L1288.1,812.69 L1289.85,811.83 L1291.61,810.96 L1293.37,810.06 L1295.12,809.13 L1296.88,808.19 L1298.64,807.23 L1300.39,806.25 L1302.15,805.25 L1303.91,804.23 L1305.67,803.19 L1307.42,802.14 L1309.18,801.07 L1310.94,799.98 L1312.69,798.88 L1314.45,797.77 L1316.21,796.64 L1317.96,795.51 L1319.72,794.36 L1321.48,793.21 L1323.24,792.06 L1324.99,790.9 L1326.75,789.74" stroke="#1FC6CF"/>
<path d="M1477.79,780.77 L1479.54,782.47 L1481.29,784.16 L1483.03,785.84 L1484.78,787.52 L1486.53,789.19 L1488.28,790.84 L1490.02,792.48 L1491.77,794.09 L1493.52,795.68 L1495.27,797.25 L1497.01,798.79 L1498.76,800.3 L1500.51,801.77 L1502.26,803.22 L1504,804.64 L1505.75,806.03 L1507.5,807.39 L1509.25,808.73 L1510.99,810.04 L1512.74,811.32 L1514.49,812.57 L1516.24,813.8 L1517.98,815 L1519.73,816.18 L1521.48,817.34 L1523.23,818.47 L1524.98,819.57 L1526.72,820.66 L1528.47,821.72 L1530.22,822.76 L1531.97,823.78 L1533.71,824.78 L1535.46,825.76 L1537.21,826.71 L1538.96,827.64 L1540.7,828.55 L1542.45,829.44 L1544.2,830.31 L1545.95,831.15 L1547.69,831.97 L1549.44,832.76 L1551.19,833.53 L1552.94,834.27 L1554.68,834.99 L1556.43,835.69 L1558.18,836.35 L1559.93,837 L1561.67,837.61 L1563.42,838.2 L1565.17,838.76 L1566.92,839.29 L1568.66,839.79 L1570.41,840.27 L1572.16,840.71 L1573.91,841.13 L1575.65,841.51 L1577.4,841.87 L1579.15,842.19 L1580.9,842.48 L1582.64,842.74 L1584.39,842.97 L1586.14,843.16 L1587.89,843.32 L1589.63,843.45 L1591.38,843.55 L1593.13,843.61 L1594.88,843.64 L1596.62,843.64 L1598.37,843.61 L1600.12,843.55 L1601.87,843.46 L1603.61,843.34 L1605.36,843.2 L1607.11,843.03 L1608.86,842.83 L1610.6,842.61 L1612.35,842.37 L1614.1,842.1 L1615.85,841.81 L1617.59,841.49 L1619.34,841.16 L1621.09,840.8 L1622.84,840.42 L1624.58,840.03 L1626.33,839.61 L1628.08,839.18 L1629.83,838.73 L1631.57,838.26 L1633.32,837.78 L1635.07,837.28 L1636.82,836.77 L1638.56,836.24 L1640.31,835.7 L1642.06,835.15 L1643.81,834.58 L1645.55,834.01 L1647.3,833.42 L1649.05,832.82 L1650.8,832.22 L1652.54,831.6 L1654.29,830.98 L1656.04,830.35 L1657.79,829.7 L1659.54,829.05 L1661.28,828.4 L1663.03,827.73 L1664.78,827.06 L1666.53,826.37 L1668.27,825.69 L1670.02,824.99 L1671.77,824.29 L1673.52,823.58 L1675.26,822.87 L1677.01,822.15 L1678.76,821.43 L1680.51,820.7 L1682.25,819.97 L1684,819.23 L1685.75,818.48 L1687.5,817.74 L1689.24,816.99 L1690.99,816.24 L1692.74,815.48 L1694.49,814.72 L1696.23,813.96 L1697.98,813.19 L1699.73,812.42 L1701.48,811.65 L1703.22,810.87 L1704.97,810.09 L1706.72,809.3 L1708.47,808.51 L1710.21,807.72 L1711.96,806.92 L1713.71,806.11 L1715.46,805.3 L1717.2,804.48 L1718.95,803.66 L1720.7,802.83 L1722.45,801.99 L1724.19,801.15 L1725.94,800.3 L1727.69,799.44 L1729.44,798.58 L1731.18,797.71 L1732.93,796.84 L1734.68,795.96 L1736.43,795.07 L1738.17,794.19 L1739.92,793.3 L1741.67,792.41 L1743.42,791.52" stroke="#1FC6CF"/>
<path d="M1170.5,817.58 L1172.24,817.98 L1173.98,818.39 L1175.72,818.8 L1177.46,819.22 L1179.2,819.65 L1180.95,820.08 L1182.69,820.53 L1184.43,820.99 L1186.17,821.46 L1187.91,821.96 L1189.65,822.47 L1191.39,823 L1193.13,823.55 L1194.87,824.13 L1196.61,824.73 L1198.36,825.36 L1200.1,826.03 L1201.84,826.72 L1203.58,827.46 L1205.32,828.23 L1207.06,829.04 L1208.8,829.91 L1210.54,830.81 L1212.28,831.78 L1214.02,832.79 L1215.76,833.86 L1217.51,834.99 L1219.25,836.19 L1220.99,837.45 L1222.73,838.77 L1224.47,840.17 L1226.21,841.64 L1227.95,843.19 L1229.69,844.82 L1231.43,846.54 L1233.17,848.33 L1234.92,850.2 L1236.66,852.15 L1238.4,854.15 L1240.14,856.22 L1241.88,858.34 L1243.62,860.5 L1245.36,862.71 L1247.1,864.95 L1248.84,867.21 L1250.58,869.5 L1252.32,871.81 L1254.07,874.12 L1255.81,876.44 L1257.55,878.75 L1259.29,881.06 L1261.03,883.35 L1262.77,885.62 L1264.51,887.87 L1266.25,890.08 L1267.99,892.25 L1269.73,894.39 L1271.47,896.5 L1273.22,898.58 L1274.96,900.63 L1276.7,902.66 L1278.44,904.68 L1280.18,906.68 L1281.92,908.66 L1283.66,910.64 L1285.4,912.61 L1287.14,914.58 L1288.88,916.54 L1290.63,918.5 L1292.37,920.45 L1294.11,922.39 L1295.85,924.32 L1297.59,926.24 L1299.33,928.15 L1301.07,930.04 L1302.81,931.92 L1304.55,933.78 L1306.29,935.63 L1308.03,937.45 L1309.78,939.26 L1311.52,941.05 L1313.26,942.83 L1315,944.58 L1316.74,946.32 L1318.48,948.04 L1320.22,949.75 L1321.96,951.44 L1323.7,953.11 L1325.44,954.76 L1327.19,956.41 L1328.93,958.03 L1330.67,959.64 L1332.41,961.24 L1334.15,962.81 L1335.89,964.37 L1337.63,965.91 L1339.37,967.41 L1341.11,968.87 L1342.85,970.3 L1344.59,971.68 L1346.34,973.01 L1348.08,974.29 L1349.82,975.51 L1351.56,976.66 L1353.3,977.74 L1355.04,978.75 L1356.78,979.68 L1358.52,980.53 L1360.26,981.29 L1362,981.98 L1363.75,982.59 L1365.49,983.13 L1367.23,983.6 L1368.97,984 L1370.71,984.33 L1372.45,984.61 L1374.19,984.82 L1375.93,984.98 L1377.67,985.09 L1379.41,985.15 L1381.15,985.16 L1382.9,985.12 L1384.64,985.03 L1386.38,984.9 L1388.12,984.73 L1389.86,984.52 L1391.6,984.26 L1393.34,983.97 L1395.08,983.64 L1396.82,983.26 L1398.56,982.86 L1400.31,982.42 L1402.05,981.94 L1403.79,981.44 L1405.53,980.9 L1407.27,980.33 L1409.01,979.74 L1410.75,979.12 L1412.49,978.47 L1414.23,977.8 L1415.97,977.1 L1417.71,976.38 L1419.46,975.65 L1421.2,974.89 L1422.94,974.11 L1424.68,973.32 L1426.42,972.52 L1428.16,971.7 L1429.9,970.87 L1431.64,970.03 L1433.38,969.17 L1435.12,968.31 L1436.86,967.45 L1438.61,966.57 L1440.35,965.7 L1442.09,964.82 L1443.83,963.94 L1445.57,963.06 L1447.31,962.18 L1449.05,961.3 L1450.79,960.42 L1452.53,959.55 L1454.27,958.69 L1456.02,957.82 L1457.76,956.95 L1459.5,956.09 L1461.24,955.23 L1462.98,954.37 L1464.72,953.5 L1466.46,952.64 L1468.2,951.77 L1469.94,950.91 L1471.68,950.04 L1473.42,949.17 L1475.17,948.29 L1476.91,947.41 L1478.65,946.53 L1480.39,945.65 L1482.13,944.75 L1483.87,943.86 L1485.61,942.95 L1487.35,942.04 L1489.09,941.13 L1490.83,940.2 L1492.58,939.27 L1494.32,938.34 L1496.06,937.39 L1497.8,936.44 L1499.54,935.48 L1501.28,934.51 L1503.02,933.53 L1504.76,932.54 L1506.5,931.55 L1508.24,930.54 L1509.98,929.52 L1511.73,928.5 L1513.47,927.46 L1515.21,926.41 L1516.95,925.35 L1518.69,924.28 L1520.43,923.2 L1522.17,922.11 L1523.91,921 L1525.65,919.88 L1527.39,918.75 L1529.14,917.6 L1530.88,916.45 L1532.62,915.27 L1534.36,914.09 L1536.1,912.89 L1537.84,911.69 L1539.58,910.48 L1541.32,909.28 L1543.06,908.07 L1544.8,906.86 L1546.54,905.66 L1548.29,904.47 L1550.03,903.3 L1551.77,902.13 L1553.51,900.99 L1555.25,899.86 L1556.99,898.76 L1558.73,897.68 L1560.47,896.63 L1562.21,895.61 L1563.95,894.62 L1565.69,893.67 L1567.44,892.76 L1569.18,891.89 L1570.92,891.07 L1572.66,890.28 L1574.4,889.55 L1576.14,888.86 L1577.88,888.22 L1579.62,887.63 L1581.36,887.09 L1583.1,886.61 L1584.85,886.18 L1586.59,885.8 L1588.33,885.49 L1590.07,885.23 L1591.81,885.03 L1593.55,884.87 L1595.29,884.76 L1597.03,884.68 L1598.77,884.65 L1600.51,884.65 L1602.25,884.67 L1604,884.72 L1605.74,884.79 L1607.48,884.88 L1609.22,884.98 L1610.96,885.09 L1612.7,885.2 L1614.44,885.32 L1616.18,885.43 L1617.92,885.54 L1619.66,885.63 L1621.41,885.71 L1623.15,885.78 L1624.89,885.84 L1626.63,885.9 L1628.37,885.94 L1630.11,885.97 L1631.85,886 L1633.59,886.01 L1635.33,886.02 L1637.07,886.03 L1638.81,886.02 L1640.56,886.02 L1642.3,886 L1644.04,885.99 L1645.78,885.97 L1647.52,885.94 L1649.26,885.92 L1651,885.89 L1652.74,885.86 L1654.48,885.83 L1656.22,885.79 L1657.97,885.75 L1659.71,885.7 L1661.45,885.64 L1663.19,885.57 L1664.93,885.49 L1666.67,885.41 L1668.41,885.31 L1670.15,885.19 L1671.89,885.07 L1673.63,884.93 L1675.37,884.77 L1677.12,884.59 L1678.86,884.4 L1680.6,884.19 L1682.34,883.95 L1684.08,883.7 L1685.82,883.41 L1687.56,883.09 L1689.3,882.72 L1691.04,882.32 L1692.78,881.86 L1694.53,881.34 L1696.27,880.77 L1698.01,880.13 L1699.75,879.42 L1701.49,878.63 L1703.23,877.75 L1704.97,876.77 L1706.71,875.69 L1708.45,874.5 L1710.19,873.18 L1711.93,871.74 L1713.68,870.17 L1715.42,868.46 L1717.16,866.63 L1718.9,864.71 L1720.64,862.71 L1722.38,860.66 L1724.12,858.58 L1725.86,856.48 L1727.6,854.38 L1729.34,852.31 L1731.08,850.29 L1732.83,848.34 L1734.57,846.47 L1736.31,844.7 L1738.05,843.03 L1739.79,841.44 L1741.53,839.95 L1743.27,838.53 L1745.01,837.2 L1746.75,835.93 L1748.49,834.74 L1750.24,833.61 L1751.98,832.54 L1753.72,831.53 L1755.46,830.57 L1757.2,829.66 L1758.94,828.79 L1760.68,827.96 L1762.42,827.17 L1764.16,826.41 L1765.9,825.69 L1767.64,825 L1769.39,824.33 L1771.13,823.7 L1772.87,823.09 L1774.61,822.5 L1776.35,821.94 L1778.09,821.4 L1779.83,820.87 L1781.57,820.36 L1783.31,819.87 L1785.05,819.39 L1786.8,818.92 L1788.54,818.46 L1790.28,818.01 L1792.02,817.56 L1793.76,817.12 L1795.5,816.68" stroke="#CF0505"/>
<path d="M1170.5,904.13 L1172.25,904.34 L1174,904.55 L1175.75,904.76 L1177.5,904.98 L1179.25,905.2 L1181,905.43 L1182.75,905.67 L1184.51,905.92 L1186.26,906.18 L1188.01,906.45 L1189.76,906.74 L1191.51,907.04 L1193.26,907.35 L1195.01,907.69 L1196.76,908.05 L1198.51,908.42 L1200.26,908.82 L1202.01,909.24 L1203.76,909.69 L1205.51,910.17 L1207.26,910.67 L1209.02,911.2 L1210.77,911.76 L1212.52,912.36 L1214.27,912.99 L1216.02,913.65 L1217.77,914.34 L1219.52,915.07 L1221.27,915.83 L1223.02,916.61 L1224.77,917.43 L1226.52,918.28 L1228.27,919.15 L1230.02,920.05 L1231.77,920.98 L1233.53,921.94 L1235.28,922.91 L1237.03,923.92 L1238.78,924.94 L1240.53,925.99 L1242.28,927.06 L1244.03,928.15 L1245.78,929.27 L1247.53,930.42 L1249.28,931.6 L1251.03,932.81 L1252.78,934.06 L1254.53,935.35 L1256.28,936.68 L1258.04,938.05 L1259.79,939.47 L1261.54,940.95 L1263.29,942.47 L1265.04,944.05 L1266.79,945.69 L1268.54,947.39 L1270.29,949.16 L1272.04,950.99 L1273.79,952.88 L1275.54,954.85 L1277.29,956.89 L1279.04,958.99 L1280.79,961.15 L1282.54,963.35 L1284.3,965.59 L1286.05,967.87 L1287.8,970.18 L1289.55,972.51 L1291.3,974.85 L1293.05,977.21 L1294.8,979.56 L1296.55,981.9 L1298.3,984.24 L1300.05,986.58 L1301.8,988.9 L1303.55,991.22 L1305.3,993.52 L1307.05,995.81 L1308.81,998.08 L1310.56,1000.34 L1312.31,1002.59 L1314.06,1004.81 L1315.81,1007.02 L1317.56,1009.2 L1319.31,1011.37 L1321.06,1013.51 L1322.81,1015.63 L1324.56,1017.72 L1326.31,1019.78 L1328.06,1021.82 L1329.81,1023.83 L1331.56,1025.81 L1333.32,1027.75 L1335.07,1029.66 L1336.82,1031.53 L1338.57,1033.35 L1340.32,1035.12 L1342.07,1036.84 L1343.82,1038.5 L1345.57,1040.1 L1347.32,1041.63 L1349.07,1043.08 L1350.82,1044.46 L1352.57,1045.76 L1354.32,1046.97 L1356.07,1048.09 L1357.82,1049.13 L1359.58,1050.07 L1361.33,1050.92 L1363.08,1051.69 L1364.83,1052.38 L1366.58,1052.98 L1368.33,1053.49 L1370.08,1053.93 L1371.83,1054.3 L1373.58,1054.62 L1375.33,1054.9 L1377.08,1055.15 L1378.83,1055.39 L1380.58,1055.89 L1382.33,1056.46 L1384.09,1057.03 L1385.84,1057.59 L1387.59,1058.16 L1389.34,1058.72 L1391.09,1059.28 L1392.84,1059.84 L1394.59,1060.39 L1396.34,1060.94 L1398.09,1061.49 L1399.84,1062.04 L1401.59,1062.58 L1403.34,1063.12 L1405.09,1063.65 L1406.84,1064.18 L1408.6,1064.71 L1410.35,1065.23 L1412.1,1065.75 L1413.85,1066.27 L1415.6,1066.78 L1417.35,1067.29 L1419.1,1067.79 L1420.85,1068.3 L1422.6,1068.8 L1424.35,1069.29 L1426.1,1069.79 L1427.85,1070.28 L1429.6,1070.76 L1431.35,1071.25 L1433.11,1071.73 L1434.86,1072.21 L1436.61,1072.69 L1438.36,1073.16 L1440.11,1073.63 L1441.86,1074.09 L1443.61,1074.55 L1445.36,1075 L1447.11,1075.45 L1448.86,1075.9 L1450.61,1076.34 L1452.36,1076.77 L1454.11,1077.19 L1455.86,1077.61 L1457.61,1078.03 L1459.37,1078.43 L1461.12,1078.83 L1462.87,1079.22 L1464.62,1079.61 L1466.37,1079.98 L1468.12,1080.35 L1469.87,1080.71 L1471.62,1081.06 L1473.37,1081.41 L1475.12,1081.75 L1476.87,1082.08 L1478.62,1082.4 L1480.37,1082.72 L1482.12,1083.03 L1483.88,1083.34 L1485.63,1083.64 L1487.38,1083.93 L1489.13,1084.21 L1490.88,1084.49 L1492.63,1084.76 L1494.38,1085.03 L1496.13,1085.29 L1497.88,1085.54 L1499.63,1085.79 L1501.38,1086.03 L1503.13,1086.27 L1504.88,1086.5 L1506.63,1086.73 L1508.39,1086.95 L1510.14,1087.17 L1511.89,1087.38 L1513.64,1087.59 L1515.39,1087.79 L1517.14,1087.98 L1518.89,1088.18 L1520.64,1088.36 L1522.39,1088.55 L1524.14,1088.73 L1525.89,1088.9 L1527.64,1089.08 L1529.39,1089.24 L1531.14,1089.41 L1532.89,1089.57 L1534.65,1089.72 L1536.4,1089.88 L1538.15,1090.03 L1539.9,1090.17 L1541.65,1090.32 L1543.4,1090.46 L1545.15,1090.6 L1546.9,1090.73 L1548.65,1090.86 L1550.4,1090.99 L1552.15,1091.12 L1553.9,1091.25 L1555.65,1091.37 L1557.4,1091.49 L1559.16,1091.61 L1560.91,1091.73 L1562.66,1091.84 L1564.41,1091.96 L1566.16,1092.07 L1567.91,1092.18 L1569.66,1092.29 L1571.41,1092.4 L1573.16,1092.51 L1574.91,1092.62 L1576.66,1092.72 L1578.41,1092.83 L1580.16,1092.93 L1581.91,1093.04 L1583.67,1093.14 L1585.42,1093.24 L1587.17,1093.35 L1588.92,1090.63 L1590.67,1087.91 L1592.42,1085.18 L1594.17,1082.45 L1595.92,1079.71 L1597.67,1076.97 L1599.42,1074.21 L1601.17,1071.45 L1602.92,1068.67 L1604.67,1065.88 L1606.42,1063.08 L1608.18,1060.26 L1609.93,1057.43 L1611.68,1054.59 L1613.43,1051.75 L1615.18,1048.89 L1616.93,1046.02 L1618.68,1043.15 L1620.43,1040.26 L1622.18,1037.37 L1623.93,1034.47 L1625.68,1031.57 L1627.43,1028.66 L1629.18,1025.74 L1630.93,1022.83 L1632.68,1019.9 L1634.44,1016.98 L1636.19,1014.07 L1637.94,1011.16 L1639.69,1008.27 L1641.44,1005.39 L1643.19,1002.53 L1644.94,999.69 L1646.69,996.88 L1648.44,994.1 L1650.19,991.36 L1651.94,988.65 L1653.69,985.97 L1655.44,983.35 L1657.19,980.77 L1658.95,978.24 L1660.7,975.76 L1662.45,973.33 L1664.2,970.95 L1665.95,968.62 L1667.7,966.34 L1669.45,964.1 L1671.2,961.91 L1672.95,959.77 L1674.7,957.67 L1676.45,955.62 L1678.2,953.62 L1679.95,951.66 L1681.7,949.74 L1683.46,947.87 L1685.21,946.04 L1686.96,944.25 L1688.71,942.51 L1690.46,940.81 L1692.21,939.15 L1693.96,937.53 L1695.71,935.96 L1697.46,934.42 L1699.21,932.92 L1700.96,931.46 L1702.71,930.05 L1704.46,928.67 L1706.21,927.33 L1707.96,926.04 L1709.72,924.78 L1711.47,923.56 L1713.22,922.39 L1714.97,921.25 L1716.72,920.16 L1718.47,919.1 L1720.22,918.09 L1721.97,917.12 L1723.72,916.19 L1725.47,915.29 L1727.22,914.44 L1728.97,913.62 L1730.72,912.85 L1732.47,912.1 L1734.23,911.4 L1735.98,910.73 L1737.73,910.1 L1739.48,909.5 L1741.23,908.94 L1742.98,908.41 L1744.73,907.92 L1746.48,907.45 L1748.23,907.02 L1749.98,906.62 L1751.73,906.26 L1753.48,905.92 L1755.23,905.61 L1756.98,905.32 L1758.74,905.07 L1760.49,904.83 L1762.24,904.62 L1763.99,904.44 L1765.74,904.27 L1767.49,904.13 L1769.24,904 L1770.99,903.9 L1772.74,903.81 L1774.49,903.73 L1776.24,903.67 L1777.99,903.62 L1779.74,903.58 L1781.49,903.56 L1783.25,903.54 L1785,903.53 L1786.75,903.53 L1788.5,903.54 L1790.25,903.55 L1792,903.56 L1793.75,903.58 L1795.5,903.59" stroke="#1FAF2C"/>
<path d="M1170.5,1429.7 L1172.25,1426.5 L1174,1423.29 L1175.75,1420.09 L1177.5,1416.89 L1179.25,1413.69 L1181,1410.48 L1182.75,1407.28 L1184.51,1404.08 L1186.26,1400.87 L1188.01,1397.67 L1189.76,1394.47 L1191.51,1391.27 L1193.26,1388.06 L1195.01,1384.86 L1196.76,1381.66 L1198.51,1378.46 L1200.26,1375.26 L1202.01,1372.06 L1203.76,1368.85 L1205.51,1365.65 L1207.26,1362.45 L1209.02,1359.25 L1210.77,1356.05 L1212.52,1352.85 L1214.27,1349.65 L1216.02,1346.45 L1217.77,1343.25 L1219.52,1340.05 L1221.27,1336.85 L1223.02,1333.65 L1224.77,1330.45 L1226.52,1327.25 L1228.27,1324.05 L1230.02,1320.85 L1231.77,1317.65 L1233.53,1314.44 L1235.28,1311.24 L1237.03,1308.04 L1238.78,1304.84 L1240.53,1301.64 L1242.28,1298.44 L1244.03,1295.23 L1245.78,1292.03 L1247.53,1288.83 L1249.28,1285.62 L1251.03,1282.42 L1252.78,1279.21 L1254.53,1276 L1256.28,1272.79 L1258.04,1269.58 L1259.79,1266.36 L1261.54,1263.15 L1263.29,1259.93 L1265.04,1256.7 L1266.79,1253.48 L1268.54,1250.25 L1270.29,1247.01 L1272.04,1243.77 L1273.79,1240.53 L1275.54,1237.28 L1277.29,1234.03 L1279.04,1230.78 L1280.79,1227.51 L1282.54,1224.25 L1284.3,1220.98 L1286.05,1217.71 L1287.8,1214.44 L1289.55,1211.17 L1291.3,1207.9 L1293.05,1204.64 L1294.8,1201.39 L1296.55,1198.15 L1298.3,1194.91 L1300.05,1191.69 L1301.8,1188.48 L1303.55,1185.28 L1305.3,1182.1 L1307.05,1178.94 L1308.81,1175.79 L1310.56,1172.67 L1312.31,1169.57 L1314.06,1166.5 L1315.81,1163.45 L1317.56,1160.43 L1319.31,1157.43 L1321.06,1154.47 L1322.81,1151.54 L1324.56,1148.65 L1326.31,1145.8 L1328.06,1142.98 L1329.81,1140.21 L1331.56,1137.49 L1333.32,1134.82 L1335.07,1132.19 L1336.82,1129.63 L1338.57,1127.13 L1340.32,1124.71 L1342.07,1122.36 L1343.82,1120.09 L1345.57,1117.91 L1347.32,1115.82 L1349.07,1113.83 L1350.82,1111.95 L1352.57,1110.18 L1354.32,1108.55 L1356.07,1107.05 L1357.82,1105.7 L1359.58,1104.51 L1361.33,1103.49 L1363.08,1102.66 L1364.83,1102.02 L1366.58,1101.58 L1368.33,1101.34 L1370.08,1101.26 L1371.83,1101.31 L1373.58,1101.48 L1375.33,1101.73 L1377.08,1102.03 L1378.83,1102.37 L1380.58,1102.07 L1382.33,1101.63 L1384.09,1101.2 L1385.84,1100.77 L1387.59,1100.34 L1389.34,1099.92 L1391.09,1099.5 L1392.84,1099.1 L1394.59,1098.7 L1396.34,1098.32 L1398.09,1097.94 L1399.84,1097.58 L1401.59,1097.23 L1403.34,1096.89 L1405.09,1096.57 L1406.84,1096.25 L1408.6,1095.95 L1410.35,1095.66 L1412.1,1095.39 L1413.85,1095.13 L1415.6,1094.88 L1417.35,1094.64 L1419.1,1094.42 L1420.85,1094.21 L1422.6,1094.02 L1424.35,1093.84 L1426.1,1093.68 L1427.85,1093.53 L1429.6,1093.39 L1431.35,1093.28 L1433.11,1093.17 L1434.86,1093.08 L1436.61,1093.01 L1438.36,1092.95 L1440.11,1092.91 L1441.86,1092.88 L1443.61,1092.86 L1445.36,1092.86 L1447.11,1092.87 L1448.86,1092.9 L1450.61,1092.94 L1452.36,1092.99 L1454.11,1093.05 L1455.86,1093.13 L1457.61,1093.22 L1459.37,1093.32 L1461.12,1093.43 L1462.87,1093.55 L1464.62,1093.68 L1466.37,1093.83 L1468.12,1093.98 L1469.87,1094.15 L1471.62,1094.32 L1473.37,1094.5 L1475.12,1094.7 L1476.87,1094.9 L1478.62,1095.11 L1480.37,1095.33 L1482.12,1095.55 L1483.88,1095.79 L1485.63,1096.03 L1487.38,1096.28 L1489.13,1096.53 L1490.88,1096.79 L1492.63,1097.06 L1494.38,1097.33 L1496.13,1097.6 L1497.88,1097.88 L1499.63,1098.15 L1501.38,1098.43 L1503.13,1098.72 L1504.88,1099 L1506.63,1099.28 L1508.39,1099.56 L1510.14,1099.84 L1511.89,1100.12 L1513.64,1100.39 L1515.39,1100.66 L1517.14,1100.93 L1518.89,1101.19 L1520.64,1101.45 L1522.39,1101.7 L1524.14,1101.95 L1525.89,1102.18 L1527.64,1102.42 L1529.39,1102.64 L1531.14,1102.85 L1532.89,1103.05 L1534.65,1103.25 L1536.4,1103.43 L1538.15,1103.61 L1539.9,1103.78 L1541.65,1103.93 L1543.4,1104.08 L1545.15,1104.23 L1546.9,1104.36 L1548.65,1104.49 L1550.4,1104.61 L1552.15,1104.73 L1553.9,1104.83 L1555.65,1104.94 L1557.4,1105.03 L1559.16,1105.12 L1560.91,1105.21 L1562.66,1105.29 L1564.41,1105.37 L1566.16,1105.44 L1567.91,1105.51 L1569.66,1105.58 L1571.41,1105.64 L1573.16,1105.7 L1574.91,1105.76 L1576.66,1105.81 L1578.41,1105.86 L1580.16,1105.92 L1581.91,1105.97 L1583.67,1106.02 L1585.42,1106.06 L1587.17,1106.11 L1588.92,1108.73 L1590.67,1111.35 L1592.42,1113.96 L1594.17,1116.58 L1595.92,1119.2 L1597.67,1121.82 L1599.42,1124.44 L1601.17,1127.06 L1602.92,1129.69 L1604.67,1132.32 L1606.42,1134.95 L1608.18,1137.58 L1609.93,1140.22 L1611.68,1142.86 L1613.43,1145.5 L1615.18,1148.15 L1616.93,1150.8 L1618.68,1153.46 L1620.43,1156.12 L1622.18,1158.79 L1623.93,1161.47 L1625.68,1164.14 L1627.43,1166.82 L1629.18,1169.49 L1630.93,1172.17 L1632.68,1174.85 L1634.44,1177.53 L1636.19,1180.21 L1637.94,1182.89 L1639.69,1185.57 L1641.44,1188.25 L1643.19,1190.94 L1644.94,1193.62 L1646.69,1196.31 L1648.44,1198.99 L1650.19,1201.68 L1651.94,1204.37 L1653.69,1207.06 L1655.44,1209.75 L1657.19,1212.44 L1658.95,1215.14 L1660.7,1217.83 L1662.45,1220.53 L1664.2,1223.22 L1665.95,1225.92 L1667.7,1228.62 L1669.45,1231.32 L1671.2,1234.02 L1672.95,1236.73 L1674.7,1239.43 L1676.45,1242.14 L1678.2,1244.84 L1679.95,1247.55 L1681.7,1250.26 L1683.46,1252.97 L1685.21,1255.68 L1686.96,1258.39 L1688.71,1261.11 L1690.46,1263.82 L1692.21,1266.54 L1693.96,1269.26 L1695.71,1271.98 L1697.46,1274.7 L1699.21,1277.42 L1700.96,1280.14 L1702.71,1282.87 L1704.46,1285.6 L1706.21,1288.32 L1707.96,1291.05 L1709.72,1293.78 L1711.47,1296.52 L1713.22,1299.25 L1714.97,1301.99 L1716.72,1304.72 L1718.47,1307.46 L1720.22,1310.2 L1721.97,1312.94 L1723.72,1315.69 L1725.47,1318.43 L1727.22,1321.18 L1728.97,1323.93 L1730.72,1326.68 L1732.47,1329.43 L1734.23,1332.18 L1735.98,1334.94 L1737.73,1337.69 L1739.48,1340.45 L1741.23,1343.21 L1742.98,1345.97 L1744.73,1348.74 L1746.48,1351.5 L1748.23,1354.27 L1749.98,1357.04 L1751.73,1359.81 L1753.48,1362.58 L1755.23,1365.36 L1756.98,1368.13 L1758.74,1370.91 L1760.49,1373.69 L1762.24,1376.47 L1763.99,1379.26 L1765.74,1382.04 L1767.49,1384.83 L1769.24,1387.62 L1770.99,1390.41 L1772.74,1393.2 L1774.49,1396 L1776.24,1398.8 L1777.99,1401.59 L1779.74,1404.4 L1781.49,1407.2 L1783.25,1410 L1785,1412.81 L1786.75,1415.62 L1788.5,1418.43 L1790.25,1421.25 L1792,1424.06 L1793.75,1426.88 L1795.5,1429.7" stroke="#0A24EC"/>
</g>
<rect x="1170.5" y="800.5" width="625" height="629.2" fill="none" stroke="#A2A2A2" stroke-width="2.2"/>
<text transform="translate(1071.96,905.06) scale(1.1753,1)" style="font-family:'Liberation Serif', serif;font-weight:bold;font-style:normal;font-size:55.72px" fill="#000">600</text>
<text transform="translate(1069.71,1097.36) scale(1.1717,1)" style="font-family:'Liberation Serif', serif;font-weight:bold;font-style:normal;font-size:55.57px" fill="#000">400</text>
<text transform="translate(1070.54,1274.38) scale(1.2433,1)" style="font-family:'Liberation Serif', serif;font-weight:bold;font-style:normal;font-size:52.9px" fill="#000">200</text>
<text transform="translate(1125.75,1437.38) scale(1.2666,1)" style="font-family:'Liberation Serif', serif;font-weight:bold;font-style:normal;font-size:52.9px" fill="#000">0</text>
<text transform="translate(1159.01,1479.1) scale(0.8553,1)" style="font-family:'Liberation Serif', serif;font-weight:bold;font-style:normal;font-size:57.42px" fill="#000">Γ</text>
<text transform="translate(1362.89,1481.1) scale(0.8413,1)" style="font-family:'Liberation Serif', serif;font-weight:bold;font-style:normal;font-size:56.2px" fill="#000">K</text>
<text transform="translate(1560.81,1481.1) scale(0.8223,1)" style="font-family:'Liberation Serif', serif;font-weight:bold;font-style:normal;font-size:56.2px" fill="#000">M</text>
<text transform="translate(1788.28,1481) scale(0.7957,1)" style="font-family:'Liberation Serif', serif;font-weight:bold;font-style:normal;font-size:57.27px" fill="#000">Γ</text>
<text transform="translate(1035.51,1281.26) rotate(-90) scale(1.0337,1)" style="font-family:'Liberation Serif', serif;font-weight:bold;font-style:normal;font-size:48.59px" fill="#000">Frequency</text>
<text transform="translate(1035.99,1018.57) rotate(-90) scale(1.0607,1)" style="font-family:'Liberation Serif', serif;font-weight:bold;font-style:normal;font-size:46.54px" fill="#000">(kHz)</text>
<text transform="translate(1015.38,776.37) scale(1.0821,1)" style="font-family:'Liberation Sans', sans-serif;font-weight:normal;font-style:normal;font-size:31.56px" fill="#000">(d)</text>
<g stroke="#E3E3E3" stroke-width="1.2">
<line x1="265.58" y1="1633.8" x2="265.58" y2="2297"/>
<line x1="372.77" y1="1633.8" x2="372.77" y2="2297"/>
<line x1="479.95" y1="1633.8" x2="479.95" y2="2297"/>
<line x1="587.13" y1="1633.8" x2="587.13" y2="2297"/>
<line x1="694.32" y1="1633.8" x2="694.32" y2="2297"/>
<line x1="158.4" y1="2249.63" x2="801.5" y2="2249.63"/>
<line x1="158.4" y1="2202.26" x2="801.5" y2="2202.26"/>
<line x1="158.4" y1="2154.89" x2="801.5" y2="2154.89"/>
<line x1="158.4" y1="2107.51" x2="801.5" y2="2107.51"/>
<line x1="158.4" y1="2060.14" x2="801.5" y2="2060.14"/>
<line x1="158.4" y1="2012.77" x2="801.5" y2="2012.77"/>
<line x1="158.4" y1="1965.4" x2="801.5" y2="1965.4"/>
<line x1="158.4" y1="1918.03" x2="801.5" y2="1918.03"/>
<line x1="158.4" y1="1870.66" x2="801.5" y2="1870.66"/>
<line x1="158.4" y1="1823.29" x2="801.5" y2="1823.29"/>
<line x1="158.4" y1="1775.91" x2="801.5" y2="1775.91"/>
<line x1="158.4" y1="1728.54" x2="801.5" y2="1728.54"/>
<line x1="158.4" y1="1681.17" x2="801.5" y2="1681.17"/>
</g>
<g stroke="#8a8a8a" stroke-width="1.6">
<line x1="265.58" y1="2297" x2="265.58" y2="2291"/>
<line x1="265.58" y1="1633.8" x2="265.58" y2="1639.8"/>
<line x1="372.77" y1="2297" x2="372.77" y2="2291"/>
<line x1="372.77" y1="1633.8" x2="372.77" y2="1639.8"/>
<line x1="479.95" y1="2297" x2="479.95" y2="2291"/>
<line x1="479.95" y1="1633.8" x2="479.95" y2="1639.8"/>
<line x1="587.13" y1="2297" x2="587.13" y2="2291"/>
<line x1="587.13" y1="1633.8" x2="587.13" y2="1639.8"/>
<line x1="694.32" y1="2297" x2="694.32" y2="2291"/>
<line x1="694.32" y1="1633.8" x2="694.32" y2="1639.8"/>
<line x1="158.4" y1="2249.63" x2="164.4" y2="2249.63"/>
<line x1="801.5" y1="2249.63" x2="795.5" y2="2249.63"/>
<line x1="158.4" y1="2202.26" x2="164.4" y2="2202.26"/>
<line x1="801.5" y1="2202.26" x2="795.5" y2="2202.26"/>
<line x1="158.4" y1="2154.89" x2="164.4" y2="2154.89"/>
<line x1="801.5" y1="2154.89" x2="795.5" y2="2154.89"/>
<line x1="158.4" y1="2107.51" x2="164.4" y2="2107.51"/>
<line x1="801.5" y1="2107.51" x2="795.5" y2="2107.51"/>
<line x1="158.4" y1="2060.14" x2="164.4" y2="2060.14"/>
<line x1="801.5" y1="2060.14" x2="795.5" y2="2060.14"/>
<line x1="158.4" y1="2012.77" x2="164.4" y2="2012.77"/>
<line x1="801.5" y1="2012.77" x2="795.5" y2="2012.77"/>
<line x1="158.4" y1="1965.4" x2="164.4" y2="1965.4"/>
<line x1="801.5" y1="1965.4" x2="795.5" y2="1965.4"/>
<line x1="158.4" y1="1918.03" x2="164.4" y2="1918.03"/>
<line x1="801.5" y1="1918.03" x2="795.5" y2="1918.03"/>
<line x1="158.4" y1="1870.66" x2="164.4" y2="1870.66"/>
<line x1="801.5" y1="1870.66" x2="795.5" y2="1870.66"/>
<line x1="158.4" y1="1823.29" x2="164.4" y2="1823.29"/>
<line x1="801.5" y1="1823.29" x2="795.5" y2="1823.29"/>
<line x1="158.4" y1="1775.91" x2="164.4" y2="1775.91"/>
<line x1="801.5" y1="1775.91" x2="795.5" y2="1775.91"/>
<line x1="158.4" y1="1728.54" x2="164.4" y2="1728.54"/>
<line x1="801.5" y1="1728.54" x2="795.5" y2="1728.54"/>
<line x1="158.4" y1="1681.17" x2="164.4" y2="1681.17"/>
<line x1="801.5" y1="1681.17" x2="795.5" y2="1681.17"/>
</g>
<rect x="392.4" y="2047.2" width="179.1" height="213.1" fill="#fff"/>
<clipPath id="hc"><polygon points="481.8,2053.2 569.5,2104.2 569.5,2205.6 481.8,2256.3 394.4,2205.6 394.4,2104.2"/></clipPath>
<polygon points="481.8,2053.2 569.5,2104.2 569.5,2205.6 481.8,2256.3 394.4,2205.6 394.4,2104.2" fill="#52EEFC" stroke="#6fcfd8" stroke-width="1"/>
<circle cx="453.2" cy="2138.4" r="26.8" fill="#B4B1F0" stroke="#8C8CE6" stroke-width="1.3"/>
<circle cx="509.9" cy="2138.3" r="27" fill="#B4B1F0" stroke="#8C8CE6" stroke-width="1.3"/>
<circle cx="453.2" cy="2203.7" r="26.8" fill="#B4B1F0" stroke="#8C8CE6" stroke-width="1.3"/>
<clipPath id="cc"><rect x="158.4" y="1633.8" width="643.1" height="663.2"/></clipPath>
<g fill="none" stroke-width="5.6" stroke-linejoin="round" stroke-linecap="round" clip-path="url(#cc)">
<path d="M142.32,1622.46 L144.13,1623.6 L145.94,1624.74 L147.74,1625.87 L149.55,1627 L151.36,1628.12 L153.17,1629.23 L154.97,1630.33 L156.78,1631.42 L158.59,1632.49 L160.39,1633.54 L162.2,1634.57 L164.01,1635.59 L165.82,1636.58 L167.62,1637.55 L169.43,1638.5 L171.24,1639.43 L173.04,1640.32 L174.85,1641.2 L176.66,1642.04 L178.47,1642.86 L180.27,1643.64 L182.08,1644.4 L183.89,1645.12 L185.69,1645.8 L187.5,1646.46 L189.31,1647.08 L191.12,1647.66 L192.92,1648.21 L194.73,1648.72 L196.54,1649.19 L198.34,1649.63 L200.15,1650.03 L201.96,1650.39 L203.77,1650.71 L205.57,1651 L207.38,1651.25 L209.19,1651.46 L210.99,1651.62 L212.8,1651.75 L214.61,1651.84 L216.42,1651.89 L218.22,1651.9 L220.03,1651.86 L221.84,1651.79 L223.64,1651.67 L225.45,1651.52 L227.26,1651.32 L229.07,1651.09 L230.87,1650.83 L232.68,1650.53 L234.49,1650.19 L236.29,1649.83 L238.1,1649.43 L239.91,1648.99 L241.72,1648.53 L243.52,1648.04 L245.33,1647.53 L247.14,1646.98 L248.94,1646.41 L250.75,1645.81 L252.56,1645.19 L254.37,1644.55 L256.17,1643.89 L257.98,1643.2 L259.79,1642.49 L261.6,1641.76 L263.4,1641.02 L265.21,1640.25 L267.02,1639.47 L268.82,1638.67 L270.63,1637.85 L272.44,1637.02 L274.25,1636.18 L276.05,1635.32 L277.86,1634.45 L279.67,1633.57 L281.47,1632.68 L283.28,1631.78 L285.09,1630.87 L286.9,1629.95 L288.7,1629.02 L290.51,1628.09 L292.32,1627.16 L294.12,1626.22 L295.93,1625.28 L297.74,1624.34" stroke="#1FC6CF"/>
<path d="M512.11,1622.46 L513.91,1623.47 L515.71,1624.47 L517.51,1625.47 L519.31,1626.46 L521.12,1627.45 L522.92,1628.43 L524.72,1629.39 L526.52,1630.35 L528.32,1631.28 L530.13,1632.2 L531.93,1633.11 L533.73,1633.99 L535.53,1634.85 L537.34,1635.69 L539.14,1636.51 L540.94,1637.31 L542.74,1638.08 L544.54,1638.84 L546.35,1639.57 L548.15,1640.27 L549.95,1640.96 L551.75,1641.62 L553.56,1642.25 L555.36,1642.86 L557.16,1643.45 L558.96,1644.01 L560.76,1644.54 L562.57,1645.05 L564.37,1645.54 L566.17,1645.99 L567.97,1646.43 L569.78,1646.83 L571.58,1647.21 L573.38,1647.57 L575.18,1647.9 L576.98,1648.2 L578.79,1648.48 L580.59,1648.74 L582.39,1648.97 L584.19,1649.17 L586,1649.35 L587.8,1649.5 L589.6,1649.63 L591.4,1649.74 L593.2,1649.82 L595.01,1649.88 L596.81,1649.91 L598.61,1649.93 L600.41,1649.92 L602.21,1649.9 L604.02,1649.85 L605.82,1649.78 L607.62,1649.7 L609.42,1649.6 L611.23,1649.48 L613.03,1649.35 L614.83,1649.2 L616.63,1649.03 L618.43,1648.85 L620.24,1648.66 L622.04,1648.45 L623.84,1648.23 L625.64,1648 L627.45,1647.76 L629.25,1647.51 L631.05,1647.25 L632.85,1646.98 L634.65,1646.7 L636.46,1646.41 L638.26,1646.12 L640.06,1645.82 L641.86,1645.52 L643.67,1645.2 L645.47,1644.89 L647.27,1644.56 L649.07,1644.24 L650.87,1643.9 L652.68,1643.56 L654.48,1643.21 L656.28,1642.85 L658.08,1642.49 L659.89,1642.12 L661.69,1641.74 L663.49,1641.36 L665.29,1640.96 L667.09,1640.56 L668.9,1640.15 L670.7,1639.73 L672.5,1639.31 L674.3,1638.87 L676.1,1638.43 L677.91,1637.97 L679.71,1637.51 L681.51,1637.03 L683.31,1636.55 L685.12,1636.06 L686.92,1635.55 L688.72,1635.04 L690.52,1634.52 L692.32,1633.98 L694.13,1633.43 L695.93,1632.88 L697.73,1632.31 L699.53,1631.73 L701.34,1631.14 L703.14,1630.55 L704.94,1629.94 L706.74,1629.33 L708.54,1628.72 L710.35,1628.1 L712.15,1627.48 L713.95,1626.86 L715.75,1626.24" stroke="#1FC6CF"/>
<path d="M158.4,1650.95 L160.26,1651.29 L162.12,1651.64 L163.97,1652.01 L165.83,1652.39 L167.69,1652.79 L169.55,1653.2 L171.4,1653.62 L173.26,1654.05 L175.12,1654.5 L176.98,1654.96 L178.84,1655.43 L180.69,1655.91 L182.55,1656.4 L184.41,1656.9 L186.27,1657.42 L188.13,1657.95 L189.98,1658.49 L191.84,1659.06 L193.7,1659.64 L195.56,1660.23 L197.41,1660.84 L199.27,1661.47 L201.13,1662.11 L202.99,1662.76 L204.85,1663.43 L206.7,1664.11 L208.56,1664.8 L210.42,1665.51 L212.28,1666.23 L214.14,1666.96 L215.93,1668.89 L217.73,1670.83 L219.52,1672.78 L221.32,1674.74 L223.12,1676.7 L224.91,1678.68 L226.71,1680.68 L228.51,1682.7 L230.3,1684.74 L232.1,1686.79 L233.89,1688.86 L235.69,1690.95 L237.49,1693.04 L239.28,1695.15 L241.08,1697.26 L242.87,1699.38 L244.67,1701.51 L246.47,1703.63 L248.26,1705.75 L250.06,1707.87 L251.86,1709.99 L253.65,1712.09 L255.45,1714.19 L257.24,1716.27 L259.04,1718.34 L260.84,1720.39 L262.63,1722.43 L264.43,1724.44 L266.23,1726.44 L268.02,1728.4 L269.82,1730.34 L271.61,1732.26 L273.41,1734.14 L275.21,1736 L277,1737.84 L278.8,1739.64 L280.6,1741.42 L282.39,1743.17 L284.19,1744.9 L285.98,1746.6 L287.78,1748.27 L289.58,1749.92 L291.37,1751.53 L293.17,1753.13 L294.97,1754.69 L296.76,1756.23 L298.56,1757.74 L300.35,1759.23 L302.15,1760.68 L303.95,1762.11 L305.74,1763.52 L307.54,1764.89 L309.34,1766.23 L311.13,1767.55 L312.93,1768.83 L314.72,1770.09 L316.52,1771.31 L318.32,1772.5 L320.11,1773.66 L321.91,1774.79 L323.7,1775.89 L325.5,1776.95 L327.3,1777.99 L329.09,1778.99 L330.89,1779.95 L332.69,1780.89 L334.48,1781.8 L336.28,1782.67 L338.07,1783.52 L339.87,1784.34 L341.67,1785.12 L343.46,1785.88 L345.26,1786.61 L347.06,1787.31 L348.85,1787.99 L350.65,1788.63 L352.44,1789.23 L354.24,1789.81 L356.04,1790.34 L357.83,1790.83 L359.63,1791.28 L361.43,1791.69 L363.22,1792.04 L365.02,1792.35 L366.81,1792.61 L368.61,1792.81 L370.41,1792.96 L372.2,1793.05 L374,1793.09 L375.8,1793.08 L377.59,1793.02 L379.39,1792.92 L381.18,1792.77 L382.98,1792.57 L384.78,1792.34 L386.57,1792.06 L388.37,1791.75 L390.17,1791.39 L391.96,1791.01 L393.76,1790.59 L395.55,1790.14 L397.35,1789.66 L399.15,1789.15 L400.94,1788.62 L402.74,1788.06 L404.53,1787.48 L406.33,1786.88 L408.13,1786.25 L409.92,1785.61 L411.72,1784.95 L413.52,1784.27 L415.31,1783.58 L417.11,1782.87 L418.9,1782.14 L420.7,1781.41 L422.5,1780.66 L424.29,1779.9 L426.09,1779.12 L427.89,1778.34 L429.68,1777.55 L431.48,1776.75 L433.27,1775.94 L435.07,1775.13 L436.87,1774.3 L438.66,1773.48 L440.46,1772.65 L442.26,1771.82 L444.05,1770.98 L445.85,1770.14 L447.64,1769.3 L449.44,1768.46 L451.24,1767.61 L453.03,1766.77 L454.83,1765.91 L456.63,1765.06 L458.42,1764.2 L460.22,1763.33 L462.01,1762.46 L463.81,1761.59 L465.61,1760.71 L467.4,1759.83 L469.2,1758.94 L471,1758.04 L472.79,1757.13 L474.59,1756.22 L476.38,1755.31 L478.18,1754.38 L479.98,1753.45 L481.77,1752.51 L483.57,1751.56 L485.36,1750.61 L487.16,1749.65 L488.96,1748.68 L490.75,1747.71 L492.55,1746.73 L494.35,1745.75 L496.14,1744.77 L497.94,1743.78 L499.73,1742.79 L501.53,1741.8 L503.33,1740.81 L505.12,1739.82 L506.92,1738.82 L508.72,1737.83 L510.51,1736.84 L512.31,1735.85 L514.1,1734.87 L515.9,1733.89 L517.7,1732.91 L519.49,1731.93 L521.29,1730.96 L523.09,1730 L524.88,1729.04 L526.68,1728.09 L528.47,1727.15 L530.27,1726.22 L532.07,1725.29 L533.86,1724.38 L535.66,1723.47 L537.46,1722.58 L539.25,1721.7 L541.05,1720.83 L542.84,1719.97 L544.64,1719.13 L546.44,1718.3 L548.23,1717.5 L550.03,1716.71 L551.83,1715.94 L553.62,1715.2 L555.42,1714.49 L557.21,1713.8 L559.01,1713.14 L560.81,1712.51 L562.6,1711.92 L564.4,1711.36 L566.19,1710.84 L567.99,1710.36 L569.79,1709.92 L571.58,1709.51 L573.38,1709.14 L575.18,1708.8 L576.97,1708.5 L578.77,1708.22 L580.56,1707.97 L582.36,1707.74 L584.16,1707.54 L585.95,1707.36 L587.75,1707.2 L589.55,1707.06 L591.34,1706.94 L593.14,1706.83 L594.93,1706.74 L596.73,1706.66 L598.53,1706.59 L600.32,1706.53 L602.12,1706.49 L603.92,1706.45 L605.71,1706.43 L607.51,1706.41 L609.3,1706.39 L611.1,1706.39 L612.9,1706.38 L614.69,1706.38 L616.49,1706.38 L618.29,1706.38 L620.08,1706.38 L621.88,1706.37 L623.67,1706.37 L625.47,1706.36 L627.27,1706.34 L629.06,1706.32 L630.86,1706.3 L632.66,1706.27 L634.45,1706.24 L636.25,1706.2 L638.04,1706.15 L639.84,1706.1 L641.64,1706.04 L643.43,1705.98 L645.23,1705.91 L647.02,1705.83 L648.82,1705.74 L650.62,1705.65 L652.41,1705.55 L654.21,1705.45 L656.01,1705.34 L657.8,1705.21 L659.6,1705.09 L661.39,1704.95 L663.19,1704.8 L664.99,1704.65 L666.78,1704.49 L668.58,1704.32 L670.38,1704.14 L672.17,1703.95 L673.97,1703.75 L675.76,1703.55 L677.56,1703.33 L679.36,1703.1 L681.15,1702.87 L682.95,1702.62 L684.75,1702.36 L686.54,1702.09 L688.34,1701.82 L690.13,1701.53 L691.93,1701.23 L693.73,1700.91 L695.52,1700.59 L697.32,1700.26 L699.12,1699.91 L700.91,1699.55 L702.71,1699.17 L704.5,1698.78 L706.3,1698.38 L708.1,1697.96 L709.89,1697.52 L711.69,1697.06 L713.49,1696.58 L715.28,1696.09 L717.08,1695.57 L718.87,1695.04 L720.67,1694.48 L722.47,1693.9 L724.26,1693.29 L726.06,1692.67 L727.85,1692.02 L729.65,1691.34 L731.45,1690.63 L733.24,1689.91 L735.04,1689.15 L736.84,1688.37 L738.63,1687.56 L740.43,1686.73 L742.22,1685.87 L744.02,1684.99 L745.82,1684.08 L747.61,1683.14 L749.41,1682.18 L751.21,1681.19 L753,1680.17 L754.8,1679.13 L756.59,1678.06 L758.39,1676.98 L760.19,1675.88 L761.98,1674.76 L763.78,1673.63 L765.58,1672.48 L767.37,1671.34 L769.17,1670.18 L770.96,1669.02 L772.76,1667.87 L774.56,1666.71 L776.35,1665.56 L778.15,1664.41 L779.95,1663.28 L781.74,1662.15 L783.54,1661.02 L785.33,1659.9 L787.13,1658.79 L788.93,1657.68 L790.72,1656.58 L792.52,1655.47 L794.32,1654.38 L796.11,1653.28 L797.91,1652.18 L799.7,1651.09 L801.5,1650" stroke="#CF0505"/>
<path d="M158.4,1707.49 L160.2,1707.68 L162,1707.87 L163.8,1708.07 L165.6,1708.28 L167.4,1708.5 L169.2,1708.75 L171,1709.02 L172.8,1709.31 L174.6,1709.63 L176.4,1709.99 L178.2,1710.39 L180,1710.83 L181.8,1711.31 L183.6,1711.84 L185.4,1712.43 L187.2,1713.07 L189,1713.76 L190.8,1714.51 L192.6,1715.32 L194.4,1716.19 L196.2,1717.12 L198,1718.1 L199.8,1719.15 L201.59,1720.26 L203.39,1721.43 L205.19,1722.67 L206.99,1723.97 L208.79,1725.34 L210.59,1726.77 L212.39,1728.27 L214.19,1729.84 L215.99,1731.47 L217.79,1733.17 L219.59,1734.94 L221.39,1736.77 L223.19,1738.65 L224.99,1740.6 L226.79,1742.6 L228.59,1744.66 L230.39,1746.77 L232.19,1748.93 L233.99,1751.14 L235.79,1753.4 L237.59,1755.7 L239.39,1758.05 L241.19,1760.43 L242.99,1762.86 L244.79,1765.33 L246.59,1767.83 L248.39,1770.36 L250.19,1772.93 L251.99,1775.53 L253.79,1778.15 L255.59,1780.81 L257.39,1783.48 L259.19,1786.18 L260.99,1788.9 L262.79,1791.64 L264.59,1794.39 L266.39,1797.16 L268.19,1799.93 L269.99,1802.72 L271.79,1805.52 L273.59,1808.32 L275.39,1811.12 L277.19,1813.92 L278.99,1816.72 L280.79,1819.52 L282.59,1822.32 L284.39,1825.1 L286.18,1827.88 L287.98,1830.64 L289.78,1833.38 L291.58,1836.1 L293.38,1838.79 L295.18,1841.45 L296.98,1844.07 L298.78,1846.66 L300.58,1849.2 L302.38,1851.69 L304.18,1854.13 L305.98,1856.52 L307.78,1858.84 L309.58,1861.1 L311.38,1863.3 L313.18,1865.42 L314.98,1867.46 L316.78,1869.42 L318.58,1871.3 L320.38,1873.09 L322.18,1874.81 L323.98,1876.45 L325.78,1878.02 L327.58,1879.52 L329.38,1880.95 L331.18,1882.31 L332.98,1883.61 L334.78,1884.85 L336.58,1886.03 L338.38,1887.15 L340.18,1888.23 L341.98,1889.25 L343.78,1890.22 L345.58,1891.15 L347.38,1892.04 L349.18,1892.89 L350.98,1893.71 L352.78,1894.48 L354.58,1895.22 L356.38,1895.93 L358.18,1896.61 L359.98,1897.25 L361.78,1897.86 L363.58,1898.44 L365.38,1899 L367.18,1899.53 L368.98,1900.05 L370.77,1900.55 L372.57,1901.03 L374.37,1901.51 L376.17,1901.97 L377.97,1902.43 L379.77,1902.88 L381.57,1903.31 L383.37,1903.74 L385.17,1904.16 L386.97,1904.58 L388.77,1904.98 L390.57,1905.38 L392.37,1905.77 L394.17,1906.15 L395.97,1906.52 L397.77,1906.89 L399.57,1907.26 L401.37,1907.61 L403.17,1907.96 L404.97,1908.31 L406.77,1908.64 L408.57,1908.98 L410.37,1909.31 L412.17,1909.63 L413.97,1909.95 L415.77,1910.27 L417.57,1910.58 L419.37,1910.89 L421.17,1911.19 L422.97,1911.49 L424.77,1911.79 L426.57,1912.09 L428.37,1912.38 L430.17,1912.68 L431.97,1912.96 L433.77,1913.25 L435.57,1913.53 L437.37,1913.82 L439.17,1914.09 L440.97,1914.37 L442.77,1914.64 L444.57,1914.91 L446.37,1915.18 L448.17,1915.44 L449.97,1915.7 L451.77,1915.96 L453.57,1916.21 L455.36,1916.46 L457.16,1916.7 L458.96,1916.94 L460.76,1917.18 L462.56,1917.41 L464.36,1917.64 L466.16,1917.86 L467.96,1918.08 L469.76,1918.29 L471.56,1918.5 L473.36,1918.7 L475.16,1918.9 L476.96,1919.1 L478.76,1919.29 L480.56,1919.47 L482.36,1919.65 L484.16,1919.82 L485.96,1919.99 L487.76,1920.15 L489.56,1920.31 L491.36,1920.46 L493.16,1920.61 L494.96,1920.76 L496.76,1920.89 L498.56,1921.03 L500.36,1921.16 L502.16,1921.28 L503.96,1921.41 L505.76,1921.52 L507.56,1921.63 L509.36,1921.74 L511.16,1921.85 L512.96,1921.95 L514.76,1922.05 L516.56,1922.14 L518.36,1922.23 L520.16,1922.32 L521.96,1922.4 L523.76,1922.48 L525.56,1922.56 L527.36,1922.63 L529.16,1922.7 L530.96,1922.77 L532.76,1922.83 L534.56,1922.9 L536.36,1922.95 L538.16,1923.01 L539.95,1923.06 L541.75,1923.12 L543.55,1923.17 L545.35,1923.21 L547.15,1923.26 L548.95,1923.3 L550.75,1923.34 L552.55,1923.38 L554.35,1923.42 L556.15,1923.45 L557.95,1923.48 L559.75,1923.52 L561.55,1923.55 L563.35,1923.58 L565.15,1923.6 L566.95,1923.63 L568.75,1923.66 L570.55,1923.68 L572.35,1923.7 L574.15,1923.73 L575.95,1923.75 L577.75,1923.77 L579.55,1923.79 L581.35,1923.81 L583.15,1923.83 L584.95,1923.85 L586.75,1923.87 L588.55,1923.88 L590.35,1923.9 L592.15,1922.34 L593.96,1920.72 L595.76,1919.09 L597.57,1917.44 L599.37,1915.76 L601.18,1914.04 L602.98,1912.27 L604.79,1910.44 L606.59,1908.56 L608.4,1906.6 L610.2,1904.57 L612.01,1902.47 L613.81,1900.28 L615.61,1898.03 L617.42,1895.71 L619.22,1893.32 L621.03,1890.87 L622.83,1888.36 L624.64,1885.79 L626.44,1883.16 L628.25,1880.48 L630.05,1877.74 L631.86,1874.96 L633.66,1872.13 L635.47,1869.26 L637.27,1866.34 L639.08,1863.39 L640.88,1860.41 L642.69,1857.4 L644.49,1854.36 L646.29,1851.31 L648.1,1848.24 L649.9,1845.16 L651.71,1842.07 L653.51,1838.98 L655.32,1835.89 L657.12,1832.8 L658.93,1829.73 L660.73,1826.67 L662.54,1823.64 L664.34,1820.62 L666.15,1817.62 L667.95,1814.65 L669.76,1811.7 L671.56,1808.77 L673.37,1805.85 L675.17,1802.96 L676.97,1800.09 L678.78,1797.24 L680.58,1794.4 L682.39,1791.58 L684.19,1788.78 L686,1786 L687.8,1783.24 L689.61,1780.49 L691.41,1777.76 L693.22,1775.04 L695.02,1772.34 L696.83,1769.66 L698.63,1767.01 L700.44,1764.38 L702.24,1761.78 L704.05,1759.21 L705.85,1756.69 L707.66,1754.21 L709.46,1751.77 L711.26,1749.39 L713.07,1747.06 L714.87,1744.79 L716.68,1742.58 L718.48,1740.44 L720.29,1738.37 L722.09,1736.38 L723.9,1734.46 L725.7,1732.63 L727.51,1730.88 L729.31,1729.22 L731.12,1727.65 L732.92,1726.18 L734.73,1724.78 L736.53,1723.47 L738.34,1722.23 L740.14,1721.07 L741.94,1719.98 L743.75,1718.96 L745.55,1718 L747.36,1717.11 L749.16,1716.27 L750.97,1715.49 L752.77,1714.76 L754.58,1714.08 L756.38,1713.44 L758.19,1712.85 L759.99,1712.3 L761.8,1711.78 L763.6,1711.31 L765.41,1710.86 L767.21,1710.45 L769.02,1710.07 L770.82,1709.73 L772.62,1709.4 L774.43,1709.11 L776.23,1708.84 L778.04,1708.59 L779.84,1708.37 L781.65,1708.16 L783.45,1707.98 L785.26,1707.81 L787.06,1707.65 L788.87,1707.51 L790.67,1707.38 L792.48,1707.26 L794.28,1707.14 L796.09,1707.04 L797.89,1706.94 L799.7,1706.84 L801.5,1706.74" stroke="#1FAF2C"/>
<path d="M158.4,2297 L160.2,2293.74 L162,2290.48 L163.8,2287.22 L165.6,2283.95 L167.4,2280.69 L169.2,2277.43 L171,2274.17 L172.8,2270.91 L174.6,2267.65 L176.4,2264.39 L178.2,2261.13 L180,2257.87 L181.8,2254.61 L183.6,2251.35 L185.4,2248.08 L187.2,2244.82 L189,2241.56 L190.8,2238.3 L192.6,2235.04 L194.4,2231.79 L196.2,2228.53 L198,2225.27 L199.8,2222.01 L201.59,2218.75 L203.39,2215.49 L205.19,2212.23 L206.99,2208.97 L208.79,2205.71 L210.59,2202.45 L212.39,2199.19 L214.19,2195.93 L215.99,2192.67 L217.79,2189.41 L219.59,2186.15 L221.39,2182.9 L223.19,2179.64 L224.99,2176.38 L226.79,2173.12 L228.59,2169.86 L230.39,2166.6 L232.19,2163.34 L233.99,2160.08 L235.79,2156.82 L237.59,2153.56 L239.39,2150.3 L241.19,2147.04 L242.99,2143.77 L244.79,2140.51 L246.59,2137.25 L248.39,2133.98 L250.19,2130.71 L251.99,2127.45 L253.79,2124.18 L255.59,2120.9 L257.39,2117.63 L259.19,2114.35 L260.99,2111.08 L262.79,2107.8 L264.59,2104.51 L266.39,2101.22 L268.19,2097.93 L269.99,2094.64 L271.79,2091.34 L273.59,2088.04 L275.39,2084.74 L277.19,2081.43 L278.99,2078.11 L280.79,2074.79 L282.59,2071.46 L284.39,2068.13 L286.18,2064.8 L287.98,2061.45 L289.78,2058.11 L291.58,2054.77 L293.38,2051.42 L295.18,2048.09 L296.98,2044.77 L298.78,2041.45 L300.58,2038.15 L302.38,2034.87 L304.18,2031.61 L305.98,2028.38 L307.78,2025.17 L309.58,2021.99 L311.38,2018.84 L313.18,2015.73 L314.98,2012.66 L316.78,2009.63 L318.58,2006.64 L320.38,2003.71 L322.18,2000.84 L323.98,1998.03 L325.78,1995.29 L327.58,1992.63 L329.38,1990.05 L331.18,1987.55 L332.98,1985.15 L334.78,1982.85 L336.58,1980.65 L338.38,1978.55 L340.18,1976.57 L341.98,1974.69 L343.78,1972.92 L345.58,1971.28 L347.38,1969.75 L349.18,1968.34 L350.98,1967.05 L352.78,1965.89 L354.58,1964.84 L356.38,1963.9 L358.18,1963.06 L359.98,1962.31 L361.78,1961.64 L363.58,1961.05 L365.38,1960.53 L367.18,1960.07 L368.98,1959.66 L370.77,1959.29 L372.57,1958.97 L374.37,1958.67 L376.17,1958.41 L377.97,1958.17 L379.77,1957.96 L381.57,1957.77 L383.37,1957.6 L385.17,1957.46 L386.97,1957.33 L388.77,1957.23 L390.57,1957.13 L392.37,1957.06 L394.17,1957 L395.97,1956.95 L397.77,1956.91 L399.57,1956.87 L401.37,1956.85 L403.17,1956.83 L404.97,1956.82 L406.77,1956.81 L408.57,1956.8 L410.37,1956.8 L412.17,1956.8 L413.97,1956.81 L415.77,1956.83 L417.57,1956.85 L419.37,1956.89 L421.17,1956.93 L422.97,1956.99 L424.77,1957.06 L426.57,1957.15 L428.37,1957.24 L430.17,1957.36 L431.97,1957.48 L433.77,1957.62 L435.57,1957.78 L437.37,1957.94 L439.17,1958.12 L440.97,1958.31 L442.77,1958.52 L444.57,1958.73 L446.37,1958.96 L448.17,1959.2 L449.97,1959.45 L451.77,1959.71 L453.57,1959.99 L455.36,1960.27 L457.16,1960.56 L458.96,1960.86 L460.76,1961.17 L462.56,1961.48 L464.36,1961.8 L466.16,1962.12 L467.96,1962.44 L469.76,1962.76 L471.56,1963.08 L473.36,1963.4 L475.16,1963.71 L476.96,1964.02 L478.76,1964.33 L480.56,1964.63 L482.36,1964.93 L484.16,1965.22 L485.96,1965.51 L487.76,1965.8 L489.56,1966.08 L491.36,1966.36 L493.16,1966.63 L494.96,1966.9 L496.76,1967.17 L498.56,1967.43 L500.36,1967.69 L502.16,1967.95 L503.96,1968.2 L505.76,1968.45 L507.56,1968.7 L509.36,1968.94 L511.16,1969.18 L512.96,1969.42 L514.76,1969.65 L516.56,1969.88 L518.36,1970.11 L520.16,1970.33 L521.96,1970.55 L523.76,1970.77 L525.56,1970.98 L527.36,1971.19 L529.16,1971.4 L530.96,1971.61 L532.76,1971.8 L534.56,1972 L536.36,1972.19 L538.16,1972.37 L539.95,1972.55 L541.75,1972.73 L543.55,1972.89 L545.35,1973.06 L547.15,1973.21 L548.95,1973.36 L550.75,1973.5 L552.55,1973.63 L554.35,1973.75 L556.15,1973.86 L557.95,1973.97 L559.75,1974.07 L561.55,1974.15 L563.35,1974.23 L565.15,1974.3 L566.95,1974.36 L568.75,1974.41 L570.55,1974.45 L572.35,1974.49 L574.15,1974.52 L575.95,1974.54 L577.75,1974.56 L579.55,1974.57 L581.35,1974.58 L583.15,1974.59 L584.95,1974.59 L586.75,1974.59 L588.55,1974.59 L590.35,1974.59 L592.15,1976.2 L593.96,1977.86 L595.76,1979.52 L597.57,1981.21 L599.37,1982.93 L601.18,1984.68 L602.98,1986.47 L604.79,1988.31 L606.59,1990.2 L608.4,1992.14 L610.2,1994.12 L612.01,1996.16 L613.81,1998.25 L615.61,2000.38 L617.42,2002.57 L619.22,2004.8 L621.03,2007.09 L622.83,2009.42 L624.64,2011.81 L626.44,2014.24 L628.25,2016.73 L630.05,2019.25 L631.86,2021.82 L633.66,2024.44 L635.47,2027.09 L637.27,2029.77 L639.08,2032.49 L640.88,2035.25 L642.69,2038.03 L644.49,2040.85 L646.29,2043.69 L648.1,2046.55 L649.9,2049.44 L651.71,2052.34 L653.51,2055.26 L655.32,2058.2 L657.12,2061.16 L658.93,2064.12 L660.73,2067.1 L662.54,2070.09 L664.34,2073.09 L666.15,2076.09 L667.95,2079.1 L669.76,2082.12 L671.56,2085.14 L673.37,2088.16 L675.17,2091.18 L676.97,2094.21 L678.78,2097.23 L680.58,2100.25 L682.39,2103.27 L684.19,2106.28 L686,2109.29 L687.8,2112.29 L689.61,2115.28 L691.41,2118.28 L693.22,2121.26 L695.02,2124.25 L696.83,2127.22 L698.63,2130.2 L700.44,2133.17 L702.24,2136.14 L704.05,2139.11 L705.85,2142.07 L707.66,2145.04 L709.46,2148 L711.26,2150.96 L713.07,2153.92 L714.87,2156.88 L716.68,2159.84 L718.48,2162.8 L720.29,2165.75 L722.09,2168.71 L723.9,2171.67 L725.7,2174.62 L727.51,2177.58 L729.31,2180.53 L731.12,2183.49 L732.92,2186.44 L734.73,2189.4 L736.53,2192.35 L738.34,2195.31 L740.14,2198.26 L741.94,2201.22 L743.75,2204.17 L745.55,2207.13 L747.36,2210.08 L749.16,2213.03 L750.97,2215.98 L752.77,2218.93 L754.58,2221.88 L756.38,2224.82 L758.19,2227.76 L759.99,2230.7 L761.8,2233.63 L763.6,2236.56 L765.41,2239.49 L767.21,2242.4 L769.02,2245.32 L770.82,2248.22 L772.62,2251.13 L774.43,2254.02 L776.23,2256.91 L778.04,2259.8 L779.84,2262.68 L781.65,2265.55 L783.45,2268.42 L785.26,2271.29 L787.06,2274.16 L788.87,2277.02 L790.67,2279.88 L792.48,2282.74 L794.28,2285.59 L796.09,2288.44 L797.89,2291.3 L799.7,2294.15 L801.5,2297" stroke="#0A24EC"/>
</g>
<rect x="158.4" y="1633.8" width="643.1" height="663.2" fill="none" stroke="#A2A2A2" stroke-width="2.2"/>
<text transform="translate(58.19,1744.48) scale(1.2246,1)" style="font-family:'Liberation Serif', serif;font-weight:bold;font-style:normal;font-size:52.9px" fill="#000">600</text>
<text transform="translate(63.22,1948.67) scale(1.1891,1)" style="font-family:'Liberation Serif', serif;font-weight:bold;font-style:normal;font-size:54.24px" fill="#000">400</text>
<text transform="translate(58.58,2117.77) scale(1.2361,1)" style="font-family:'Liberation Serif', serif;font-weight:bold;font-style:normal;font-size:54.24px" fill="#000">200</text>
<text transform="translate(116.45,2286.28) scale(1.2666,1)" style="font-family:'Liberation Serif', serif;font-weight:bold;font-style:normal;font-size:52.9px" fill="#000">0</text>
<text transform="translate(158.48,2342.3) scale(0.8266,1)" style="font-family:'Liberation Serif', serif;font-weight:bold;font-style:normal;font-size:55.13px" fill="#000">Γ</text>
<text transform="translate(359.31,2342.3) scale(0.8696,1)" style="font-family:'Liberation Serif', serif;font-weight:bold;font-style:normal;font-size:53.3px" fill="#000">K</text>
<text transform="translate(572.91,2342.3) scale(0.8650,1)" style="font-family:'Liberation Serif', serif;font-weight:bold;font-style:normal;font-size:53.3px" fill="#000">M</text>
<text transform="translate(789.76,2342.3) scale(0.8348,1)" style="font-family:'Liberation Serif', serif;font-weight:bold;font-style:normal;font-size:55.44px" fill="#000">Γ</text>
<text transform="translate(37.16,2121.06) rotate(-90) scale(1.0363,1)" style="font-family:'Liberation Serif', serif;font-weight:bold;font-style:normal;font-size:48.36px" fill="#000">Frequency</text>
<text transform="translate(37.72,1858.87) rotate(-90) scale(1.0632,1)" style="font-family:'Liberation Serif', serif;font-weight:bold;font-style:normal;font-size:46.43px" fill="#000">(kHz)</text>
<text transform="translate(40.03,1598.89) scale(1.0005,1)" style="font-family:'Liberation Sans', sans-serif;font-weight:normal;font-style:normal;font-size:33.38px" fill="#000">(c)</text>
<g stroke="#E3E3E3" stroke-width="1.2">
<line x1="1262.13" y1="1638.6" x2="1262.13" y2="2290.8"/>
<line x1="1368.57" y1="1638.6" x2="1368.57" y2="2290.8"/>
<line x1="1475" y1="1638.6" x2="1475" y2="2290.8"/>
<line x1="1581.43" y1="1638.6" x2="1581.43" y2="2290.8"/>
<line x1="1687.87" y1="1638.6" x2="1687.87" y2="2290.8"/>
<line x1="1155.7" y1="2244.21" x2="1794.3" y2="2244.21"/>
<line x1="1155.7" y1="2197.63" x2="1794.3" y2="2197.63"/>
<line x1="1155.7" y1="2151.04" x2="1794.3" y2="2151.04"/>
<line x1="1155.7" y1="2104.46" x2="1794.3" y2="2104.46"/>
<line x1="1155.7" y1="2057.87" x2="1794.3" y2="2057.87"/>
<line x1="1155.7" y1="2011.29" x2="1794.3" y2="2011.29"/>
<line x1="1155.7" y1="1964.7" x2="1794.3" y2="1964.7"/>
<line x1="1155.7" y1="1918.11" x2="1794.3" y2="1918.11"/>
<line x1="1155.7" y1="1871.53" x2="1794.3" y2="1871.53"/>
<line x1="1155.7" y1="1824.94" x2="1794.3" y2="1824.94"/>
<line x1="1155.7" y1="1778.36" x2="1794.3" y2="1778.36"/>
<line x1="1155.7" y1="1731.77" x2="1794.3" y2="1731.77"/>
<line x1="1155.7" y1="1685.19" x2="1794.3" y2="1685.19"/>
</g>
<g stroke="#8a8a8a" stroke-width="1.6">
<line x1="1262.13" y1="2290.8" x2="1262.13" y2="2284.8"/>
<line x1="1262.13" y1="1638.6" x2="1262.13" y2="1644.6"/>
<line x1="1368.57" y1="2290.8" x2="1368.57" y2="2284.8"/>
<line x1="1368.57" y1="1638.6" x2="1368.57" y2="1644.6"/>
<line x1="1475" y1="2290.8" x2="1475" y2="2284.8"/>
<line x1="1475" y1="1638.6" x2="1475" y2="1644.6"/>
<line x1="1581.43" y1="2290.8" x2="1581.43" y2="2284.8"/>
<line x1="1581.43" y1="1638.6" x2="1581.43" y2="1644.6"/>
<line x1="1687.87" y1="2290.8" x2="1687.87" y2="2284.8"/>
<line x1="1687.87" y1="1638.6" x2="1687.87" y2="1644.6"/>
<line x1="1155.7" y1="2244.21" x2="1161.7" y2="2244.21"/>
<line x1="1794.3" y1="2244.21" x2="1788.3" y2="2244.21"/>
<line x1="1155.7" y1="2197.63" x2="1161.7" y2="2197.63"/>
<line x1="1794.3" y1="2197.63" x2="1788.3" y2="2197.63"/>
<line x1="1155.7" y1="2151.04" x2="1161.7" y2="2151.04"/>
<line x1="1794.3" y1="2151.04" x2="1788.3" y2="2151.04"/>
<line x1="1155.7" y1="2104.46" x2="1161.7" y2="2104.46"/>
<line x1="1794.3" y1="2104.46" x2="1788.3" y2="2104.46"/>
<line x1="1155.7" y1="2057.87" x2="1161.7" y2="2057.87"/>
<line x1="1794.3" y1="2057.87" x2="1788.3" y2="2057.87"/>
<line x1="1155.7" y1="2011.29" x2="1161.7" y2="2011.29"/>
<line x1="1794.3" y1="2011.29" x2="1788.3" y2="2011.29"/>
<line x1="1155.7" y1="1964.7" x2="1161.7" y2="1964.7"/>
<line x1="1794.3" y1="1964.7" x2="1788.3" y2="1964.7"/>
<line x1="1155.7" y1="1918.11" x2="1161.7" y2="1918.11"/>
<line x1="1794.3" y1="1918.11" x2="1788.3" y2="1918.11"/>
<line x1="1155.7" y1="1871.53" x2="1161.7" y2="1871.53"/>
<line x1="1794.3" y1="1871.53" x2="1788.3" y2="1871.53"/>
<line x1="1155.7" y1="1824.94" x2="1161.7" y2="1824.94"/>
<line x1="1794.3" y1="1824.94" x2="1788.3" y2="1824.94"/>
<line x1="1155.7" y1="1778.36" x2="1161.7" y2="1778.36"/>
<line x1="1794.3" y1="1778.36" x2="1788.3" y2="1778.36"/>
<line x1="1155.7" y1="1731.77" x2="1161.7" y2="1731.77"/>
<line x1="1794.3" y1="1731.77" x2="1788.3" y2="1731.77"/>
<line x1="1155.7" y1="1685.19" x2="1161.7" y2="1685.19"/>
<line x1="1794.3" y1="1685.19" x2="1788.3" y2="1685.19"/>
</g>
<rect x="1343.8" y="2013.6" width="181.4" height="214" fill="#fff"/>
<clipPath id="he"><polygon points="1435.6,2019.6 1523.2,2071.4 1523.2,2173.3 1435.6,2223.6 1345.8,2173.3 1345.8,2071.4"/></clipPath>
<polygon points="1435.6,2019.6 1523.2,2071.4 1523.2,2173.3 1435.6,2223.6 1345.8,2173.3 1345.8,2071.4" fill="#52EEFC" stroke="#6fcfd8" stroke-width="1"/>
<circle cx="1434.1" cy="2088.1" r="27" fill="#B4B1F0" stroke="#8C8CE6" stroke-width="1.3"/>
<circle cx="1406.1" cy="2136.8" r="27" fill="#B4B1F0" stroke="#8C8CE6" stroke-width="1.3"/>
<circle cx="1461.5" cy="2136.8" r="27" fill="#B4B1F0" stroke="#8C8CE6" stroke-width="1.3"/>
<clipPath id="ce"><rect x="1155.7" y="1638.6" width="638.6" height="652.2"/></clipPath>
<g fill="none" stroke-width="5.6" stroke-linejoin="round" stroke-linecap="round" clip-path="url(#ce)">
<path d="M1155.7,1656.58 L1157.48,1656.78 L1159.26,1656.98 L1161.04,1657.19 L1162.82,1657.39 L1164.59,1657.6 L1166.37,1657.81 L1168.15,1658.02 L1169.93,1658.23 L1171.71,1658.45 L1173.49,1658.67 L1175.27,1658.9 L1177.05,1659.13 L1178.82,1659.36 L1180.6,1659.6 L1182.38,1659.85 L1184.16,1660.1 L1185.94,1660.36 L1187.72,1660.63 L1189.5,1660.91 L1191.28,1661.2 L1193.06,1661.5 L1194.83,1661.82 L1196.61,1662.15 L1198.39,1662.5 L1200.17,1662.87 L1201.95,1663.26 L1203.73,1663.66 L1205.51,1664.09 L1207.29,1664.55 L1209.06,1665.03 L1210.84,1665.53 L1212.62,1666.06 L1214.4,1666.61 L1216.18,1667.19 L1217.96,1667.79 L1219.74,1668.42 L1221.52,1669.07 L1223.3,1669.73 L1225.07,1670.42 L1226.85,1671.13 L1228.63,1671.85 L1230.41,1672.6 L1232.19,1673.36 L1233.97,1674.14 L1235.75,1674.93 L1237.53,1675.74 L1239.31,1676.57 L1241.08,1677.4 L1242.86,1678.26 L1244.64,1679.12 L1246.42,1680 L1248.2,1680.9 L1249.98,1681.8 L1251.76,1682.72 L1253.54,1683.66 L1255.31,1684.6 L1257.09,1685.56 L1258.87,1686.53 L1260.65,1687.51 L1262.43,1688.5 L1264.21,1689.49 L1265.99,1690.5 L1267.77,1691.52 L1269.55,1692.54 L1271.32,1693.57 L1273.1,1694.6 L1274.88,1695.64 L1276.66,1696.69 L1278.44,1697.73 L1280.22,1698.78 L1282,1699.83 L1283.78,1700.89 L1285.55,1701.94 L1287.33,1702.99 L1289.11,1704.04 L1290.89,1705.09 L1292.67,1706.13 L1294.45,1707.18 L1296.23,1708.21 L1298.01,1709.25 L1299.79,1710.27 L1301.56,1711.29 L1303.34,1712.31 L1305.12,1713.31 L1306.9,1714.31 L1308.68,1715.29 L1310.46,1716.27 L1312.24,1717.23 L1314.02,1718.18 L1315.79,1719.12 L1317.57,1720.05 L1319.35,1720.96 L1321.13,1721.85 L1322.91,1722.73 L1324.69,1723.58 L1326.47,1724.42 L1328.25,1725.23 L1330.03,1726.02 L1331.8,1726.78 L1333.58,1727.51 L1335.36,1728.21 L1337.14,1728.89 L1338.92,1729.53 L1340.7,1730.14 L1342.48,1730.72 L1344.26,1731.27 L1346.03,1731.78 L1347.81,1732.26 L1349.59,1732.71 L1351.37,1733.12 L1353.15,1733.51 L1354.93,1733.85 L1356.71,1734.17 L1358.49,1734.45 L1360.27,1734.7 L1362.04,1734.93 L1363.82,1735.12 L1365.6,1735.29 L1367.38,1735.43 L1369.16,1735.54 L1370.94,1735.63 L1372.72,1735.69 L1374.5,1735.73 L1376.27,1735.75 L1378.05,1735.74 L1379.83,1735.71 L1381.61,1735.66 L1383.39,1735.59 L1385.17,1735.5 L1386.95,1735.39 L1388.73,1735.27 L1390.51,1735.13 L1392.28,1734.97 L1394.06,1734.79 L1395.84,1734.6 L1397.62,1734.39 L1399.4,1734.17 L1401.18,1733.94 L1402.96,1733.69 L1404.74,1733.43 L1406.52,1733.15 L1408.29,1732.86 L1410.07,1732.56 L1411.85,1732.25 L1413.63,1731.92 L1415.41,1731.58 L1417.19,1731.23 L1418.97,1730.87 L1420.75,1730.5 L1422.52,1730.11 L1424.3,1729.72 L1426.08,1729.31 L1427.86,1728.89 L1429.64,1728.47 L1431.42,1728.04 L1433.2,1727.6 L1434.98,1727.15 L1436.76,1726.7 L1438.53,1726.24 L1440.31,1725.78 L1442.09,1725.32 L1443.87,1724.85 L1445.65,1724.38 L1447.43,1723.9 L1449.21,1723.43 L1450.99,1722.95 L1452.76,1722.48 L1454.54,1722 L1456.32,1721.52 L1458.1,1721.04 L1459.88,1720.55 L1461.66,1720.06 L1463.44,1719.57 L1465.22,1719.07 L1467,1718.56 L1468.77,1718.05 L1470.55,1717.53 L1472.33,1717.01 L1474.11,1716.48 L1475.89,1715.94 L1477.67,1715.39 L1479.45,1714.83 L1481.23,1714.27 L1483,1713.7 L1484.78,1713.12 L1486.56,1712.54 L1488.34,1711.95 L1490.12,1711.36 L1491.9,1710.76 L1493.68,1710.16 L1495.46,1709.55 L1497.24,1708.94 L1499.01,1708.32 L1500.79,1707.71 L1502.57,1707.08 L1504.35,1706.46 L1506.13,1705.84 L1507.91,1705.21 L1509.69,1704.58 L1511.47,1703.95 L1513.24,1703.32 L1515.02,1702.7 L1516.8,1702.07 L1518.58,1701.44 L1520.36,1700.82 L1522.14,1700.2 L1523.92,1699.58 L1525.7,1698.97 L1527.48,1698.36 L1529.25,1697.75 L1531.03,1697.15 L1532.81,1696.56 L1534.59,1695.98 L1536.37,1695.4 L1538.15,1694.84 L1539.93,1694.28 L1541.71,1693.74 L1543.48,1693.21 L1545.26,1692.7 L1547.04,1692.2 L1548.82,1691.72 L1550.6,1691.26 L1552.38,1690.81 L1554.16,1690.39 L1555.94,1689.99 L1557.72,1689.61 L1559.49,1689.25 L1561.27,1688.91 L1563.05,1688.59 L1564.83,1688.28 L1566.61,1688 L1568.39,1687.73 L1570.17,1687.48 L1571.95,1687.24 L1573.73,1687.02 L1575.5,1686.82 L1577.28,1686.62 L1579.06,1686.44 L1580.84,1686.27 L1582.62,1686.12 L1584.4,1685.97 L1586.18,1685.84 L1587.96,1685.71 L1589.73,1685.59 L1591.51,1685.47 L1593.29,1685.36 L1595.07,1685.26 L1596.85,1685.16 L1598.63,1685.07 L1600.41,1684.97 L1602.19,1684.88 L1603.97,1684.78 L1605.74,1684.69 L1607.52,1684.59 L1609.3,1684.49 L1611.08,1684.39 L1612.86,1684.28 L1614.64,1684.17 L1616.42,1684.06 L1618.2,1683.94 L1619.97,1683.82 L1621.75,1683.69 L1623.53,1683.56 L1625.31,1683.42 L1627.09,1683.28 L1628.87,1683.13 L1630.65,1682.98 L1632.43,1682.81 L1634.21,1682.65 L1635.98,1682.48 L1637.76,1682.29 L1639.54,1682.1 L1641.32,1681.91 L1643.1,1681.69 L1644.88,1681.47 L1646.66,1681.24 L1648.44,1680.98 L1650.21,1680.72 L1651.99,1680.43 L1653.77,1680.13 L1655.55,1679.81 L1657.33,1679.47 L1659.11,1679.12 L1660.89,1678.76 L1662.67,1678.38 L1664.45,1677.99 L1666.22,1677.6 L1668,1677.19 L1669.78,1676.78 L1671.56,1676.35 L1673.34,1675.93 L1675.12,1675.5 L1676.9,1675.06 L1678.68,1674.63 L1680.45,1674.19 L1682.23,1673.75 L1684.01,1673.32 L1685.79,1672.88 L1687.57,1672.45 L1689.35,1672.03 L1691.13,1671.61 L1692.91,1671.2 L1694.69,1670.79 L1696.46,1670.38 L1698.24,1669.98 L1700.02,1669.59 L1701.8,1669.2 L1703.58,1668.82 L1705.36,1668.44 L1707.14,1668.07 L1708.92,1667.7 L1710.69,1667.34 L1712.47,1666.98 L1714.25,1666.63 L1716.03,1666.28 L1717.81,1665.94 L1719.59,1665.61 L1721.37,1665.28 L1723.15,1664.95 L1724.93,1664.63 L1726.7,1664.32 L1728.48,1664.01 L1730.26,1663.71 L1732.04,1663.42 L1733.82,1663.12 L1735.6,1662.84 L1737.38,1662.56 L1739.16,1662.29 L1740.94,1662.02 L1742.71,1661.76 L1744.49,1661.5 L1746.27,1661.25 L1748.05,1661.01 L1749.83,1660.77 L1751.61,1660.54 L1753.39,1660.32 L1755.17,1660.1 L1756.94,1659.89 L1758.72,1659.68 L1760.5,1659.48 L1762.28,1659.29 L1764.06,1659.1 L1765.84,1658.93 L1767.62,1658.76 L1769.4,1658.59 L1771.18,1658.43 L1772.95,1658.28 L1774.73,1658.14 L1776.51,1657.99 L1778.29,1657.86 L1780.07,1657.73 L1781.85,1657.6 L1783.63,1657.47 L1785.41,1657.35 L1787.18,1657.23 L1788.96,1657.11 L1790.74,1657 L1792.52,1656.88 L1794.3,1656.77" stroke="#CF0505"/>
<path d="M1155.7,1656.64 L1157.48,1657.65 L1159.26,1658.69 L1161.04,1659.77 L1162.82,1660.93 L1164.59,1662.18 L1166.37,1663.55 L1168.15,1665.06 L1169.93,1666.7 L1171.71,1668.47 L1173.49,1670.38 L1175.27,1672.42 L1177.05,1674.59 L1178.82,1676.89 L1180.6,1679.29 L1182.38,1681.78 L1184.16,1684.33 L1185.94,1686.93 L1187.72,1689.56 L1189.5,1692.22 L1191.28,1694.91 L1193.06,1697.63 L1194.83,1700.37 L1196.61,1703.12 L1198.39,1705.89 L1200.17,1708.67 L1201.95,1711.46 L1203.73,1714.25 L1205.51,1717.04 L1207.29,1719.83 L1209.06,1722.6 L1210.84,1725.37 L1212.62,1728.11 L1214.4,1730.84 L1216.18,1733.55 L1217.96,1736.23 L1219.74,1738.89 L1221.52,1741.53 L1223.3,1744.15 L1225.07,1746.74 L1226.85,1749.31 L1228.63,1751.86 L1230.41,1754.39 L1232.19,1756.89 L1233.97,1759.38 L1235.75,1761.84 L1237.53,1764.29 L1239.31,1766.71 L1241.08,1769.12 L1242.86,1771.5 L1244.64,1773.87 L1246.42,1776.21 L1248.2,1778.54 L1249.98,1780.85 L1251.76,1783.14 L1253.54,1785.42 L1255.31,1787.68 L1257.09,1789.93 L1258.87,1792.16 L1260.65,1794.39 L1262.43,1796.61 L1264.21,1798.82 L1265.99,1801.02 L1267.77,1803.22 L1269.55,1805.42 L1271.32,1807.61 L1273.1,1809.81 L1274.88,1812 L1276.66,1814.2 L1278.44,1816.4 L1280.22,1818.6 L1282,1820.82 L1283.78,1823.04 L1285.55,1825.26 L1287.33,1827.5 L1289.11,1829.74 L1290.89,1831.99 L1292.67,1834.25 L1294.45,1836.51 L1296.23,1838.78 L1298.01,1841.05 L1299.79,1843.32 L1301.56,1845.6 L1303.34,1847.88 L1305.12,1850.16 L1306.9,1852.44 L1308.68,1854.72 L1310.46,1857 L1312.24,1859.27 L1314.02,1861.55 L1315.79,1863.82 L1317.57,1866.09 L1319.35,1868.36 L1321.13,1870.62 L1322.91,1872.87 L1324.69,1875.11 L1326.47,1877.34 L1328.25,1879.54 L1330.03,1881.72 L1331.8,1883.87 L1333.58,1885.99 L1335.36,1888.07 L1337.14,1890.1 L1338.92,1892.09 L1340.7,1894.03 L1342.48,1895.9 L1344.26,1897.72 L1346.03,1899.47 L1347.81,1901.15 L1349.59,1902.76 L1351.37,1904.28 L1353.15,1905.72 L1354.93,1907.07 L1356.71,1908.32 L1358.49,1909.44 L1360.27,1910.41 L1362.04,1911.22 L1363.82,1911.87 L1365.6,1912.36 L1367.38,1912.7 L1369.16,1912.9 L1370.94,1912.98 L1372.72,1912.95 L1374.5,1912.83 L1376.27,1912.65 L1378.05,1912.42 L1379.83,1912.17 L1381.61,1911.89 L1383.39,1911.6 L1385.17,1911.3 L1386.95,1910.98 L1388.73,1910.64 L1390.51,1910.3 L1392.28,1909.94 L1394.06,1909.57 L1395.84,1909.19 L1397.62,1908.8 L1399.4,1908.4 L1401.18,1907.98 L1402.96,1907.56 L1404.74,1907.14 L1406.52,1906.7 L1408.29,1906.26 L1410.07,1905.81 L1411.85,1905.35 L1413.63,1904.89 L1415.41,1904.43 L1417.19,1903.96 L1418.97,1903.49 L1420.75,1903.01 L1422.52,1902.53 L1424.3,1902.05 L1426.08,1901.57 L1427.86,1901.09 L1429.64,1900.61 L1431.42,1900.13 L1433.2,1899.65 L1434.98,1899.17 L1436.76,1898.7 L1438.53,1898.23 L1440.31,1897.76 L1442.09,1897.3 L1443.87,1896.84 L1445.65,1896.39 L1447.43,1895.95 L1449.21,1895.51 L1450.99,1895.08 L1452.76,1894.66 L1454.54,1894.25 L1456.32,1893.85 L1458.1,1893.46 L1459.88,1893.08 L1461.66,1892.71 L1463.44,1892.35 L1465.22,1892.01 L1467,1891.68 L1468.77,1891.36 L1470.55,1891.06 L1472.33,1890.77 L1474.11,1890.5 L1475.89,1890.24 L1477.67,1889.99 L1479.45,1889.76 L1481.23,1889.53 L1483,1889.32 L1484.78,1889.12 L1486.56,1888.93 L1488.34,1888.76 L1490.12,1888.59 L1491.9,1888.44 L1493.68,1888.29 L1495.46,1888.16 L1497.24,1888.03 L1499.01,1887.91 L1500.79,1887.8 L1502.57,1887.7 L1504.35,1887.61 L1506.13,1887.53 L1507.91,1887.45 L1509.69,1887.39 L1511.47,1887.32 L1513.24,1887.27 L1515.02,1887.22 L1516.8,1887.18 L1518.58,1887.14 L1520.36,1887.11 L1522.14,1887.08 L1523.92,1887.06 L1525.7,1887.05 L1527.48,1887.03 L1529.25,1887.02 L1531.03,1887.02 L1532.81,1887.02 L1534.59,1887.01 L1536.37,1887.01 L1538.15,1887.01 L1539.93,1887.01 L1541.71,1887 L1543.48,1886.99 L1545.26,1886.98 L1547.04,1886.96 L1548.82,1886.94 L1550.6,1886.9 L1552.38,1886.87 L1554.16,1886.82 L1555.94,1886.76 L1557.72,1886.7 L1559.49,1886.62 L1561.27,1886.53 L1563.05,1886.42 L1564.83,1886.3 L1566.61,1886.17 L1568.39,1886.02 L1570.17,1885.86 L1571.95,1885.67 L1573.73,1885.47 L1575.5,1885.25 L1577.28,1885.01 L1579.06,1884.75 L1580.84,1884.46 L1582.62,1884.15 L1584.4,1883.81 L1586.18,1883.41 L1587.96,1882.95 L1589.73,1882.41 L1591.51,1881.78 L1593.29,1881.03 L1595.07,1880.16 L1596.85,1879.19 L1598.63,1878.12 L1600.41,1876.94 L1602.19,1875.67 L1603.97,1874.32 L1605.74,1872.87 L1607.52,1871.35 L1609.3,1869.75 L1611.08,1868.08 L1612.86,1866.34 L1614.64,1864.54 L1616.42,1862.67 L1618.2,1860.75 L1619.97,1858.77 L1621.75,1856.75 L1623.53,1854.69 L1625.31,1852.58 L1627.09,1850.44 L1628.87,1848.27 L1630.65,1846.07 L1632.43,1843.85 L1634.21,1841.61 L1635.98,1839.36 L1637.76,1837.1 L1639.54,1834.83 L1641.32,1832.56 L1643.1,1830.3 L1644.88,1828.04 L1646.66,1825.79 L1648.44,1823.56 L1650.21,1821.34 L1651.99,1819.13 L1653.77,1816.93 L1655.55,1814.74 L1657.33,1812.56 L1659.11,1810.38 L1660.89,1808.21 L1662.67,1806.03 L1664.45,1803.86 L1666.22,1801.69 L1668,1799.52 L1669.78,1797.35 L1671.56,1795.16 L1673.34,1792.98 L1675.12,1790.78 L1676.9,1788.58 L1678.68,1786.36 L1680.45,1784.13 L1682.23,1781.89 L1684.01,1779.63 L1685.79,1777.36 L1687.57,1775.07 L1689.35,1772.75 L1691.13,1770.43 L1692.91,1768.08 L1694.69,1765.72 L1696.46,1763.34 L1698.24,1760.95 L1700.02,1758.54 L1701.8,1756.11 L1703.58,1753.67 L1705.36,1751.21 L1707.14,1748.74 L1708.92,1746.25 L1710.69,1743.75 L1712.47,1741.24 L1714.25,1738.71 L1716.03,1736.17 L1717.81,1733.62 L1719.59,1731.05 L1721.37,1728.47 L1723.15,1725.88 L1724.93,1723.29 L1726.7,1720.71 L1728.48,1718.13 L1730.26,1715.56 L1732.04,1713.01 L1733.82,1710.48 L1735.6,1707.98 L1737.38,1705.51 L1739.16,1703.08 L1740.94,1700.69 L1742.71,1698.35 L1744.49,1696.07 L1746.27,1693.84 L1748.05,1691.67 L1749.83,1689.57 L1751.61,1687.55 L1753.39,1685.6 L1755.17,1683.73 L1756.94,1681.94 L1758.72,1680.22 L1760.5,1678.57 L1762.28,1676.99 L1764.06,1675.48 L1765.84,1674.02 L1767.62,1672.63 L1769.4,1671.29 L1771.18,1670.01 L1772.95,1668.79 L1774.73,1667.61 L1776.51,1666.48 L1778.29,1665.38 L1780.07,1664.33 L1781.85,1663.31 L1783.63,1662.32 L1785.41,1661.35 L1787.18,1660.41 L1788.96,1659.48 L1790.74,1658.56 L1792.52,1657.65 L1794.3,1656.75" stroke="#1FAF2C"/>
<path d="M1155.7,2290.8 L1157.48,2287.34 L1159.26,2283.88 L1161.04,2280.42 L1162.82,2276.96 L1164.59,2273.51 L1166.37,2270.07 L1168.15,2266.62 L1169.93,2263.19 L1171.71,2259.76 L1173.49,2256.34 L1175.27,2252.93 L1177.05,2249.53 L1178.82,2246.14 L1180.6,2242.76 L1182.38,2239.4 L1184.16,2236.04 L1185.94,2232.69 L1187.72,2229.36 L1189.5,2226.03 L1191.28,2222.71 L1193.06,2219.39 L1194.83,2216.09 L1196.61,2212.79 L1198.39,2209.49 L1200.17,2206.19 L1201.95,2202.9 L1203.73,2199.61 L1205.51,2196.33 L1207.29,2193.04 L1209.06,2189.75 L1210.84,2186.47 L1212.62,2183.18 L1214.4,2179.89 L1216.18,2176.61 L1217.96,2173.32 L1219.74,2170.03 L1221.52,2166.75 L1223.3,2163.46 L1225.07,2160.17 L1226.85,2156.88 L1228.63,2153.58 L1230.41,2150.29 L1232.19,2146.99 L1233.97,2143.69 L1235.75,2140.4 L1237.53,2137.1 L1239.31,2133.8 L1241.08,2130.5 L1242.86,2127.21 L1244.64,2123.92 L1246.42,2120.63 L1248.2,2117.34 L1249.98,2114.06 L1251.76,2110.79 L1253.54,2107.52 L1255.31,2104.25 L1257.09,2101 L1258.87,2097.75 L1260.65,2094.51 L1262.43,2091.27 L1264.21,2088.05 L1265.99,2084.84 L1267.77,2081.64 L1269.55,2078.45 L1271.32,2075.27 L1273.1,2072.11 L1274.88,2068.96 L1276.66,2065.83 L1278.44,2062.71 L1280.22,2059.6 L1282,2056.52 L1283.78,2053.45 L1285.55,2050.4 L1287.33,2047.37 L1289.11,2044.37 L1290.89,2041.38 L1292.67,2038.43 L1294.45,2035.49 L1296.23,2032.59 L1298.01,2029.71 L1299.79,2026.86 L1301.56,2024.04 L1303.34,2021.26 L1305.12,2018.51 L1306.9,2015.79 L1308.68,2013.12 L1310.46,2010.47 L1312.24,2007.87 L1314.02,2005.31 L1315.79,2002.8 L1317.57,2000.33 L1319.35,1997.9 L1321.13,1995.53 L1322.91,1993.21 L1324.69,1990.94 L1326.47,1988.73 L1328.25,1986.58 L1330.03,1984.49 L1331.8,1982.46 L1333.58,1980.5 L1335.36,1978.6 L1337.14,1976.78 L1338.92,1975.04 L1340.7,1973.38 L1342.48,1971.8 L1344.26,1970.3 L1346.03,1968.9 L1347.81,1967.59 L1349.59,1966.39 L1351.37,1965.28 L1353.15,1964.28 L1354.93,1963.38 L1356.71,1962.59 L1358.49,1961.91 L1360.27,1961.32 L1362.04,1960.84 L1363.82,1960.45 L1365.6,1960.15 L1367.38,1959.93 L1369.16,1959.79 L1370.94,1959.72 L1372.72,1959.72 L1374.5,1959.78 L1376.27,1959.9 L1378.05,1960.07 L1379.83,1960.3 L1381.61,1960.58 L1383.39,1960.91 L1385.17,1961.27 L1386.95,1961.67 L1388.73,1962.11 L1390.51,1962.57 L1392.28,1963.07 L1394.06,1963.58 L1395.84,1964.12 L1397.62,1964.67 L1399.4,1965.24 L1401.18,1965.82 L1402.96,1966.42 L1404.74,1967.03 L1406.52,1967.66 L1408.29,1968.29 L1410.07,1968.93 L1411.85,1969.59 L1413.63,1970.24 L1415.41,1970.91 L1417.19,1971.58 L1418.97,1972.25 L1420.75,1972.93 L1422.52,1973.61 L1424.3,1974.29 L1426.08,1974.97 L1427.86,1975.64 L1429.64,1976.32 L1431.42,1976.99 L1433.2,1977.66 L1434.98,1978.32 L1436.76,1978.98 L1438.53,1979.62 L1440.31,1980.26 L1442.09,1980.9 L1443.87,1981.52 L1445.65,1982.13 L1447.43,1982.73 L1449.21,1983.32 L1450.99,1983.9 L1452.76,1984.47 L1454.54,1985.03 L1456.32,1985.58 L1458.1,1986.12 L1459.88,1986.65 L1461.66,1987.17 L1463.44,1987.68 L1465.22,1988.19 L1467,1988.68 L1468.77,1989.16 L1470.55,1989.64 L1472.33,1990.1 L1474.11,1990.56 L1475.89,1991.01 L1477.67,1991.45 L1479.45,1991.88 L1481.23,1992.3 L1483,1992.72 L1484.78,1993.12 L1486.56,1993.52 L1488.34,1993.91 L1490.12,1994.29 L1491.9,1994.67 L1493.68,1995.04 L1495.46,1995.4 L1497.24,1995.75 L1499.01,1996.09 L1500.79,1996.43 L1502.57,1996.76 L1504.35,1997.09 L1506.13,1997.41 L1507.91,1997.72 L1509.69,1998.02 L1511.47,1998.32 L1513.24,1998.62 L1515.02,1998.9 L1516.8,1999.18 L1518.58,1999.46 L1520.36,1999.73 L1522.14,1999.99 L1523.92,2000.24 L1525.7,2000.49 L1527.48,2000.73 L1529.25,2000.96 L1531.03,2001.18 L1532.81,2001.4 L1534.59,2001.6 L1536.37,2001.79 L1538.15,2001.97 L1539.93,2002.14 L1541.71,2002.3 L1543.48,2002.45 L1545.26,2002.58 L1547.04,2002.7 L1548.82,2002.81 L1550.6,2002.9 L1552.38,2002.98 L1554.16,2003.05 L1555.94,2003.11 L1557.72,2003.17 L1559.49,2003.23 L1561.27,2003.29 L1563.05,2003.35 L1564.83,2003.42 L1566.61,2003.5 L1568.39,2003.6 L1570.17,2003.7 L1571.95,2003.83 L1573.73,2003.98 L1575.5,2004.15 L1577.28,2004.35 L1579.06,2004.58 L1580.84,2004.84 L1582.62,2005.13 L1584.4,2005.48 L1586.18,2005.88 L1587.96,2006.35 L1589.73,2006.9 L1591.51,2007.55 L1593.29,2008.32 L1595.07,2009.19 L1596.85,2010.16 L1598.63,2011.23 L1600.41,2012.38 L1602.19,2013.62 L1603.97,2014.92 L1605.74,2016.29 L1607.52,2017.73 L1609.3,2019.24 L1611.08,2020.81 L1612.86,2022.46 L1614.64,2024.17 L1616.42,2025.94 L1618.2,2027.78 L1619.97,2029.67 L1621.75,2031.62 L1623.53,2033.61 L1625.31,2035.64 L1627.09,2037.71 L1628.87,2039.82 L1630.65,2041.95 L1632.43,2044.11 L1634.21,2046.29 L1635.98,2048.5 L1637.76,2050.72 L1639.54,2052.97 L1641.32,2055.24 L1643.1,2057.52 L1644.88,2059.82 L1646.66,2062.14 L1648.44,2064.47 L1650.21,2066.82 L1651.99,2069.19 L1653.77,2071.57 L1655.55,2073.96 L1657.33,2076.37 L1659.11,2078.8 L1660.89,2081.24 L1662.67,2083.7 L1664.45,2086.18 L1666.22,2088.67 L1668,2091.18 L1669.78,2093.71 L1671.56,2096.26 L1673.34,2098.84 L1675.12,2101.45 L1676.9,2104.08 L1678.68,2106.73 L1680.45,2109.41 L1682.23,2112.11 L1684.01,2114.83 L1685.79,2117.56 L1687.57,2120.32 L1689.35,2123.09 L1691.13,2125.87 L1692.91,2128.66 L1694.69,2131.47 L1696.46,2134.28 L1698.24,2137.09 L1700.02,2139.92 L1701.8,2142.74 L1703.58,2145.57 L1705.36,2148.39 L1707.14,2151.22 L1708.92,2154.05 L1710.69,2156.87 L1712.47,2159.7 L1714.25,2162.53 L1716.03,2165.35 L1717.81,2168.18 L1719.59,2171.01 L1721.37,2173.84 L1723.15,2176.68 L1724.93,2179.51 L1726.7,2182.35 L1728.48,2185.19 L1730.26,2188.03 L1732.04,2190.88 L1733.82,2193.73 L1735.6,2196.58 L1737.38,2199.43 L1739.16,2202.29 L1740.94,2205.16 L1742.71,2208.02 L1744.49,2210.89 L1746.27,2213.76 L1748.05,2216.63 L1749.83,2219.5 L1751.61,2222.37 L1753.39,2225.24 L1755.17,2228.11 L1756.94,2230.98 L1758.72,2233.85 L1760.5,2236.72 L1762.28,2239.59 L1764.06,2242.45 L1765.84,2245.31 L1767.62,2248.17 L1769.4,2251.02 L1771.18,2253.87 L1772.95,2256.72 L1774.73,2259.57 L1776.51,2262.41 L1778.29,2265.26 L1780.07,2268.1 L1781.85,2270.94 L1783.63,2273.78 L1785.41,2276.62 L1787.18,2279.46 L1788.96,2282.29 L1790.74,2285.13 L1792.52,2287.97 L1794.3,2290.8" stroke="#0A24EC"/>
</g>
<rect x="1155.7" y="1638.6" width="638.6" height="652.2" fill="none" stroke="#A2A2A2" stroke-width="2.2"/>
<text transform="translate(1059.31,1752.67) scale(1.1829,1)" style="font-family:'Liberation Serif', serif;font-weight:bold;font-style:normal;font-size:54.24px" fill="#000">600</text>
<text transform="translate(1056.91,1932.17) scale(1.2018,1)" style="font-family:'Liberation Serif', serif;font-weight:bold;font-style:normal;font-size:54.24px" fill="#000">400</text>
<text transform="translate(1054.11,2125.17) scale(1.2211,1)" style="font-family:'Liberation Serif', serif;font-weight:bold;font-style:normal;font-size:54.39px" fill="#000">200</text>
<text transform="translate(1117.63,2293.7) scale(1.2582,1)" style="font-family:'Liberation Serif', serif;font-weight:bold;font-style:normal;font-size:51.57px" fill="#000">0</text>
<text transform="translate(1147.9,2340.3) scale(0.8849,1)" style="font-family:'Liberation Serif', serif;font-weight:bold;font-style:normal;font-size:56.51px" fill="#000">Γ</text>
<text transform="translate(1358.08,2342.3) scale(0.8696,1)" style="font-family:'Liberation Serif', serif;font-weight:bold;font-style:normal;font-size:55.13px" fill="#000">K</text>
<text transform="translate(1576.9,2340.3) scale(0.8317,1)" style="font-family:'Liberation Serif', serif;font-weight:bold;font-style:normal;font-size:56.51px" fill="#000">M</text>
<text transform="translate(1780.53,2344.3) scale(0.8780,1)" style="font-family:'Liberation Serif', serif;font-weight:bold;font-style:normal;font-size:55.13px" fill="#000">Γ</text>
<text transform="translate(1028.24,2129.26) rotate(-90) scale(1.0132,1)" style="font-family:'Liberation Serif', serif;font-weight:bold;font-style:normal;font-size:49.85px" fill="#000">Frequency</text>
<text transform="translate(1028.5,1867.19) rotate(-90) scale(1.0499,1)" style="font-family:'Liberation Serif', serif;font-weight:bold;font-style:normal;font-size:47.42px" fill="#000">(kHz)</text>
<text transform="translate(1027.38,1597.97) scale(1.0197,1)" style="font-family:'Liberation Sans', sans-serif;font-weight:normal;font-style:normal;font-size:33.49px" fill="#000">(e)</text>
<text transform="translate(1520.65,2239.01) scale(1.0840,1)" style="font-family:'Liberation Serif', serif;font-weight:bold;font-style:italic;font-size:38.39px" fill="#000">α</text>
<text transform="translate(1556.21,2242.7) scale(1.3138,1)" style="font-family:'Liberation Serif', serif;font-weight:bold;font-style:normal;font-size:39.63px" fill="#000">=</text>
<text transform="translate(1596.03,2241.7) scale(1.2607,1)" style="font-family:'Liberation Serif', serif;font-weight:bold;font-style:normal;font-size:40.1px" fill="#000">−</text>
<text transform="translate(1625.57,2239.02) scale(1.1780,1)" style="font-family:'Liberation Serif', serif;font-weight:bold;font-style:normal;font-size:39.12px" fill="#000">30</text>
<text transform="translate(1671.19,2226.54) scale(1.0667,1)" style="font-family:'Liberation Serif', serif;font-weight:normal;font-style:normal;font-size:29.68px" fill="#000">°</text>
</svg>
</body></html>
